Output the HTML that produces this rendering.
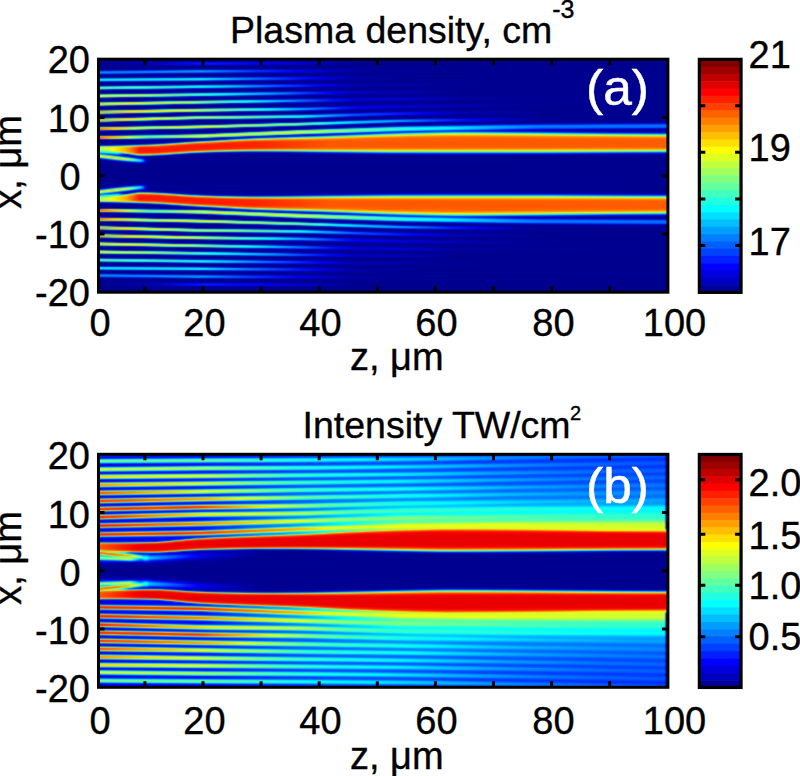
<!DOCTYPE html><html><head><meta charset="utf-8"><style>html,body{margin:0;padding:0;background:#fff;overflow:hidden;width:800px;height:776px}#h{position:absolute;left:0;top:0;width:800px;height:776px}#h i{position:absolute;left:100px;width:567px;height:1px}svg{position:absolute;left:0;top:0;display:block}</style></head><body><div id="h"><i style="top:60px;background:#00008f"></i><i style="top:61px;background:linear-gradient(90deg,#00008f,#0000a0 78px,#0000b1 140px,#00008f 279px,#00008f 566px)"></i><i style="top:62px;background:linear-gradient(90deg,#000090,#0000a9 56px,#0009e9 97px,#0000e1 161px,#00008f 258px,#00008f 566px)"></i><i style="top:63px;background:linear-gradient(90deg,#000090,#0000b3 54px,#0009fb 90px,#0019fd 104px,#0000ef 162px,#00008f 256px,#00008f 566px)"></i><i style="top:64px;background:linear-gradient(90deg,#000090,#0000b3 55px,#0006eb 91px,#000fea 106px,#0000d2 163px,#00008f 253px,#00008f 566px)"></i><i style="top:65px;background:linear-gradient(90deg,#000090,#0000ae 77px,#00009b 187px,#00008f 338px,#00008f 566px)"></i><i style="top:66px;background:#000090"></i><i style="top:67px;background:#00008f"></i><i style="top:68px;background:linear-gradient(90deg,#000090,#009 229px,#00008f 495px,#00008f 566px)"></i><i style="top:69px;background:linear-gradient(90deg,#000195,#000ba9 57px,#001cc4 110px,#0000c0 203px,#000098 271px,#00008f 404px,#00008f 566px)"></i><i style="top:70px;background:linear-gradient(90deg,#0018b5,#0028e7 46px,#0074f0 99px,#0000ec 195px,#00009f 257px,#00008f 335px,#00008f 566px)"></i><i style="top:71px;background:linear-gradient(90deg,#005eec,#0081fd 65px,#008bfd 102px,#0024f9 161px,#0000e6 198px,#00009b 256px,#00008f 364px,#00008f 566px)"></i><i style="top:72px;background:linear-gradient(90deg,#0080fd,#006ff4 64px,#0056e9 103px,#000de2 153px,#00009b 236px,#00008f 392px,#00008f 566px)"></i><i style="top:73px;background:linear-gradient(90deg,#005ceb,#001edf 51px,#0016ae 99px,#0000a0 171px,#00008f 301px,#00008f 566px)"></i><i style="top:74px;background:linear-gradient(90deg,#0018b4,#00019c 67px,#000090 218px,#00008f 566px)"></i><i style="top:75px;background:#000195"></i><i style="top:76px;background:linear-gradient(90deg,#000191,#000da9 131px,#0000b1 225px,#00008f 300px,#00008f 566px)"></i><i style="top:77px;background:linear-gradient(90deg,#001aa9,#0030c7 68px,#003fe7 104px,#003ee8 150px,#000aec 203px,#0000d3 226px,#0000a6 257px,#00008f 319px,#00008f 566px)"></i><i style="top:78px;background:linear-gradient(90deg,#0279e6,#01c7fd 101px,#001bfd 195px,#0000ea 217px,#0000a6 255px,#00008f 320px,#00008f 566px)"></i><i style="top:79px;background:linear-gradient(90deg,#04ddf9,#01dafd 102px,#0062f3 150px,#0004e1 202px,#00009a 255px,#00008f 383px,#00008f 566px)"></i><i style="top:80px;background:linear-gradient(90deg,#02c7fc,#0279e6 99px,#0025e1 133px,#000bb2 177px,#000097 235px,#00008f 566px)"></i><i style="top:81px;background:linear-gradient(90deg,#003be7,#0026b1 67px,#00019e 146px,#000090 278px,#00008f 566px)"></i><i style="top:82px;background:linear-gradient(90deg,#0004a8,#000191 115px,#00008f 566px)"></i><i style="top:83px;background:linear-gradient(90deg,#000091,#00029d 136px,#00a 233px,#0000a4 280px,#00008f 385px,#00008f 566px)"></i><i style="top:84px;background:linear-gradient(90deg,#000191,#010aa7 66px,#0029b5 114px,#001ae7 176px,#0000e0 221px,#0000b1 255px,#00009c 325px,#00008f 379px,#00008f 566px)"></i><i style="top:85px;background:linear-gradient(90deg,#011ea8,#0737bb 38px,#0b3edc 60px,#059de5 102px,#0095f1 130px,#001efd 202px,#00e 223px,#0000b1 253px,#00008f 373px,#00008f 566px)"></i><i style="top:86px;background:linear-gradient(90deg,#1683d1,#15c8d7 29px,#2cc8d0 55px,#0eeaef 101px,#00d2fd 120px,#0045f5 180px,#0001e0 217px,#0000a2 254px,#00008f 388px,#00008f 566px)"></i><i style="top:87px;background:linear-gradient(90deg,#50e2ae,#38fac5 39px,#17cae7 89px,#02bbf0 107px,#001ae2 168px,#0002b0 208px,#000093 265px,#00008f 566px)"></i><i style="top:88px;background:linear-gradient(90deg,#4fd8af,#2fc8c6 27px,#11c0da 45px,#0437de 94px,#001eaf 131px,#0001a0 177px,#000090 269px,#00008f 566px)"></i><i style="top:89px;background:linear-gradient(90deg,#1665d2,#1037d1 18px,#012dad 52px,#0002a1 99px,#000090 176px,#00008f 566px)"></i><i style="top:90px;background:linear-gradient(90deg,#0113a7,#00029d 27px,#000090 119px,#00009c 248px,#0000a2 321px,#00008f 368px,#00008f 566px)"></i><i style="top:91px;background:linear-gradient(90deg,#000191,#00029b 115px,#0017bc 184px,#0004d3 223px,#0000b9 258px,#0000b2 311px,#00008f 359px,#00008f 566px)"></i><i style="top:92px;background:linear-gradient(90deg,#000291,#010aa6 59px,#0135b7 106px,#003fe7 135px,#0064e8 161px,#0052f0 189px,#0000f1 232px,#0000c6 253px,#0000af 311px,#00008f 360px,#00008f 566px)"></i><i style="top:93px;background:linear-gradient(90deg,#0227a6,#0d37a3 21px,#1d37b6 44px,#1f40c9 55px,#12b3d8 96px,#0ac8eb 119px,#00c3fe 141px,#0091fd 171px,#001af3 218px,#0000e2 234px,#0000ba 254px,#00008f 359px,#00008f 566px)"></i><i style="top:94px;background:linear-gradient(90deg,#349bb4,#38c8b0 14px,#6ac887 36px,#70cf8e 59px,#2ef7d0 103px,#09e3f5 128px,#00abfe 150px,#0010e2 204px,#00009f 250px,#000090 401px,#00008f 566px)"></i><i style="top:95px;background:linear-gradient(90deg,#baec44,#acfa52 21px,#86fa78 51px,#2dc8cb 98px,#0abfe3 112px,#002ce0 154px,#0015b1 180px,#0000a0 213px,#000090 290px,#00008f 566px)"></i><i style="top:96px;background:linear-gradient(90deg,#b9e945,#84c874 28px,#36c8b4 51px,#22bcc7 58px,#1037d6 92px,#002bb0 119px,#0002a1 158px,#000090 217px,#000094 410px,#00008f 566px)"></i><i style="top:97px;background:linear-gradient(90deg,#3395b4,#2637bf 23px,#1037a7 45px,#0129a8 64px,#0102a2 97px,#000091 151px,#0000a5 276px,#0000b4 315px,#00009b 379px,#00008f 520px,#00008f 566px)"></i><i style="top:98px;background:linear-gradient(90deg,#0224a6,#0202a0 28px,#000091 87px,#00029f 158px,#0009b9 222px,#0000be 247px,#0000d0 305px,#00009f 361px,#00008f 497px,#00008f 566px)"></i><i style="top:99px;background:linear-gradient(90deg,#000291,#01029b 85px,#0114a6 107px,#0033bc 147px,#0032e7 175px,#003ce9 203px,#0009f0 235px,#0000d7 255px,#0000cd 305px,#009 359px,#00008f 566px)"></i><i style="top:100px;background:linear-gradient(90deg,#000291,#0202a3 37px,#0a37a5 71px,#1d37b3 88px,#213ec6 96px,#14a7d5 128px,#05beec 151px,#0090fe 183px,#000af5 235px,#0000d0 253px,#000092 354px,#00008f 566px)"></i><i style="top:101px;background:linear-gradient(90deg,#0224a6,#0e37a0 14px,#2637a6 31px,#2c41bb 41px,#30c8b9 67px,#6bc887 84px,#7ad384 102px,#1af4e4 144px,#00d6fe 162px,#0064f3 196px,#0008e2 227px,#0000ab 255px,#000090 352px,#00008f 566px)"></i><i style="top:102px;background:linear-gradient(90deg,#3791b0,#40c5a9 10px,#89c866 26px,#a7d357 45px,#a0fa5e 70px,#8ffa6f 93px,#3ac8c4 129px,#09c1e6 145px,#0023e3 186px,#000cb0 213px,#000097 247px,#00008f 566px)"></i><i style="top:103px;background:linear-gradient(90deg,#c6d938,#cef330 14px,#cefa30 32px,#abf353 51px,#7ec87a 77px,#3ac8b0 94px,#25bdc3 100px,#0f38d7 129px,#0029b1 154px,#0001a1 191px,#000090 249px,#000091 430px,#00008f 566px)"></i><i style="top:104px;background:linear-gradient(90deg,#c6e038,#bbce43 16px,#7cc872 34px,#31c4b7 48px,#2438c2 73px,#1137a6 89px,#022aa8 105px,#0002a1 134px,#000090 189px,#00009b 285px,#0000a6 367px,#00008f 465px,#00008f 566px)"></i><i style="top:105px;background:linear-gradient(90deg,#37aab1,#2e37b5 21px,#19379e 36px,#022da7 52px,#0102a0 77px,#000091 123px,#00019a 233px,#0000c7 305px,#00008f 452px,#00008f 566px)"></i><i style="top:106px;background:linear-gradient(90deg,#022ea6,#0202a0 24px,#000191 67px,#00029e 178px,#000ca9 211px,#0003d3 248px,#0000e0 284px,#009 395px,#00008f 541px,#00008f 566px)"></i><i style="top:107px;background:linear-gradient(90deg,#000291,#02029a 85px,#0218a6 110px,#0034b9 161px,#002ce7 202px,#0041ea 219px,#0019f4 242px,#0001f7 256px,#00009b 354px,#00008f 524px,#00008f 566px)"></i><i style="top:108px;background:linear-gradient(90deg,#000191,#02029f 38px,#0221a6 57px,#0c37a1 71px,#2337a7 86px,#2a3ebd 95px,#296fbe 109px,#16b7d3 143px,#04bded 171px,#006cfd 216px,#0013f2 244px,#0001e7 255px,#0000a0 303px,#000090 408px,#00008f 566px)"></i><i style="top:109px;background:linear-gradient(90deg,#0216a5,#0c369f 17px,#29369b 33px,#323eb5 44px,#3ac8ae 67px,#85c86c 83px,#a2d45c 100px,#39f7c5 151px,#06e7f8 174px,#0084fe 204px,#000ce1 236px,#0000ae 257px,#000091 305px,#00008f 566px)"></i><i style="top:110px;background:linear-gradient(90deg,#375fb0,#3dbaab 14px,#92bf5b 29px,#bcc942 45px,#c3fb3b 69px,#c1fa3d 90px,#95ef69 110px,#38c8c1 147px,#09c1e5 163px,#003de7 201px,#0020dc 208px,#000daf 225px,#000098 249px,#000097 323px,#000090 434px,#00008f 566px)"></i><i style="top:111px;background:linear-gradient(90deg,#c6a537,#cfd02f 17px,#e3e41b 32px,#c5f339 56px,#a1c85a 78px,#60c88b 93px,#2ec3ba 103px,#153dd2 139px,#002ab2 173px,#00019d 213px,#000092 260px,#0000b7 327px,#00008f 458px,#00008f 566px)"></i><i style="top:112px;background:linear-gradient(90deg,#d7bc27,#c6bd38 11px,#c1bf3b 28px,#79c473 43px,#37c1b1 54px,#2c38ba 76px,#17379f 91px,#022fa8 107px,#0102a2 146px,#000091 213px,#0001a3 249px,#000dc2 276px,#000ee9 296px,#0000e4 323px,#0000b8 359px,#00008f 450px,#00008f 566px)"></i><i style="top:113px;background:linear-gradient(90deg,#67b682,#37b2b0 7px,#3744b0 24px,#3036a4 31px,#16379b 45px,#022da6 57px,#0202a1 79px,#000191 116px,#00029b 206px,#001abd 239px,#001de7 256px,#0032ef 274px,#0010fc 306px,#0000e3 327px,#0000b2 357px,#00008f 439px,#00008f 566px)"></i><i style="top:114px;background:linear-gradient(90deg,#143699,#0229a6 11px,#0202a0 30px,#000191 66px,#0102a5 130px,#002eb6 201px,#0038e7 216px,#0064ea 231px,#0056f7 247px,#002cf6 284px,#0003de 311px,#00009e 354px,#00008f 476px,#00008f 566px)"></i><i style="top:115px;background:linear-gradient(90deg,#010292,#01029a 65px,#020ea6 77px,#0737a8 95px,#1937c1 125px,#1a46cd 139px,#0c9fdd 185px,#00b4f9 211px,#0091fd 233px,#004cf9 253px,#0014e8 276px,#0003ae 301px,#000091 364px,#00008f 566px)"></i><i style="top:116px;background:linear-gradient(90deg,#000191,#02029e 29px,#0221a6 44px,#0c37a2 55px,#2237ab 67px,#273dc0 73px,#2bc7be 93px,#50c89e 102px,#60ce9e 140px,#3fe4bf 171px,#09eaf4 203px,#00cafe 213px,#0078f0 231px,#0016e1 251px,#000aaf 269px,#000092 307px,#00008f 566px)"></i><i style="top:117px;background:linear-gradient(90deg,#0216a5,#0c369f 13px,#29369a 25px,#3340b4 34px,#39c7af 52px,#7dc874 64px,#96d468 77px,#8dfa71 96px,#66f298 140px,#35cdc9 175px,#05c0ec 200px,#0061e8 215px,#0028df 224px,#0017b1 237px,#0001a0 255px,#000091 292px,#00009b 415px,#00008f 469px,#00008f 566px)"></i><i style="top:118px;background:linear-gradient(90deg,#3761b0,#39b8af 10px,#97bf57 23px,#bfcd3f 36px,#bcfb42 54px,#b1fa4d 70px,#99ef65 81px,#72c887 98px,#1ec0cb 134px,#0937db 183px,#002db7 204px,#0002a1 226px,#000091 256px,#00029f 289px,#000db5 334px,#0000c9 380px,#000095 431px,#00008f 566px)"></i><i style="top:119px;background:linear-gradient(90deg,#c6a537,#cfcf2f 13px,#e4e41a 25px,#c4f33a 43px,#98c862 60px,#52c899 72px,#2cbfbc 78px,#213bc5 95px,#1537ae 109px,#012daa 141px,#0002a2 189px,#000091 230px,#0002a1 258px,#0022bc 283px,#002de7 296px,#003fe8 305px,#002eec 336px,#0000ed 375px,#00008f 439px,#00008f 566px)"></i><i style="top:120px;background:linear-gradient(90deg,#d6bc28,#c6bc38 9px,#bfbf3c 22px,#7ac372 33px,#38c3b0 41px,#2a39bc 58px,#1637a2 69px,#022ea8 80px,#0102a1 98px,#000091 172px,#00029a 221px,#000fa8 234px,#002bbe 252px,#0038e7 263px,#007beb 279px,#0086fe 300px,#0010f5 358px,#0000de 379px,#000090 434px,#00008f 566px)"></i><i style="top:121px;background:linear-gradient(90deg,#65b684,#39b4af 5px,#3740b0 19px,#28379a 28px,#022fa7 43px,#0202a2 60px,#000191 89px,#010299 187px,#010ea7 200px,#0237b9 219px,#073be0 229px,#0098ea 246px,#00b2fe 268px,#00a4fd 286px,#0009e1 348px,#00009d 400px,#000090 469px,#000091 566px)"></i><i style="top:122px;background:linear-gradient(90deg,#133699,#022aa6 8px,#0202a0 23px,#000191 52px,#010299 150px,#010ea6 163px,#0837ac 182px,#1637c6 193px,#184fcf 199px,#12bdd9 215px,#1ac8d9 223px,#0edbf0 238px,#00dcfd 249px,#0097f6 274px,#004ee8 291px,#0022e0 300px,#000db1 329px,#00009b 367px,#000095 456px,#0001a4 566px)"></i><i style="top:123px;background:linear-gradient(90deg,#010292,#010298 113px,#020da6 125px,#0937a7 143px,#1a37b7 154px,#1f43c8 160px,#22c7c8 179px,#50c8a6 191px,#57dba7 203px,#2cfad1 220px,#01c0f7 243px,#0065e8 261px,#002bdf 271px,#001db1 284px,#0001a2 304px,#000093 362px,#0013d8 566px)"></i><i style="top:124px;background:linear-gradient(90deg,#000090,#01029c 69px,#0211a5 85px,#0a37a3 104px,#2137a8 115px,#283fbf 122px,#2ac7bf 140px,#63c890 152px,#77d687 164px,#6efa90 182px,#60f09e 198px,#37c8c4 213px,#0ebfde 222px,#0037e3 241px,#0025b2 253px,#00029f 274px,#000194 302px,#000bb0 369px,#0022ea 433px,#004bf8 566px)"></i><i style="top:125px;background:linear-gradient(90deg,#020292,#020ba5 26px,#0937a5 54px,#2237ab 70px,#2b41bc 79px,#3ac8ae 102px,#7cc874 113px,#98d366 125px,#90fa6e 143px,#7bf183 163px,#5cc89e 181px,#1cc0cd 195px,#0f38d4 212px,#012aad 226px,#0002a2 243px,#000093 267px,#000bad 300px,#0026d5 342px,#0037e9 361px,#0062f4 400px,#0067fe 477px,#006cff 566px)"></i><i style="top:126px;background:linear-gradient(90deg,#26358b,#37369b 15px,#373eb0 23px,#30c8b8 51px,#84c870 69px,#abd752 85px,#bdfa41 105px,#affa4f 120px,#9aed64 130px,#72c886 146px,#2fc8bb 158px,#23aec5 163px,#1a38cb 179px,#0937ae 190px,#0120a8 202px,#0102a1 214px,#000192 238px,#000bab 269px,#012acb 287px,#013ce8 296px,#0160e9 308px,#009af9 345px,#00a3fe 389px,#0079ff 444px,#006cff 566px)"></i><i style="top:127px;background:linear-gradient(90deg,#98a952,#c6b52e 14px,#c7c137 26px,#b9ea45 40px,#9efa60 51px,#b9fa45 74px,#b6f048 91px,#afd54f 103px,#7bc875 115px,#2dc2bb 126px,#2139c5 143px,#0d37a8 155px,#0225a7 166px,#0102a0 182px,#000193 212px,#010ba9 239px,#012fc8 257px,#063fe2 266px,#0dacea 289px,#0ad4f4 304px,#00e6ff 346px,#009dff 407px,#006efe 440px,#004bf8 566px)"></i><i style="top:128px;background:linear-gradient(90deg,#e99115,#f4c80a 15px,#c4f33a 36px,#94ce6a 53px,#6ec880 72px,#32c0b6 87px,#3062b7 102px,#2a38ba 108px,#1437a1 119px,#022ca7 129px,#0102a2 145px,#000191 172px,#00029f 201px,#0118ab 215px,#0837d1 232px,#1048d8 238px,#17bcdf 259px,#29d0d5 269px,#30f2cf 289px,#0dfdf2 326px,#00e7ff 352px,#0053f6 426px,#003ef0 445px,#0014df 551px,#0013d8 566px)"></i><i style="top:129px;background:linear-gradient(90deg,#c77a37,#c8a430 10px,#b9b639 15px,#38c1b0 34px,#2744c0 54px,#2437b4 61px,#1137a1 77px,#022aa6 92px,#02029f 111px,#000090 145px,#01029e 177px,#0214a9 187px,#0a37c1 200px,#163fd1 207px,#25c8cf 229px,#52dbac 244px,#53fdac 266px,#2ffdd0 295px,#01d7fe 337px,#001beb 414px,#000fc6 442px,#0001a5 566px)"></i><i style="top:130px;background:linear-gradient(90deg,#3744b0,#372da8 8px,#2d3692 17px,#0230a7 36px,#0202a3 59px,#000191 98px,#00029a 152px,#010fa7 162px,#0a37bd 176px,#193ece 182px,#2cc5c3 197px,#66cd98 208px,#7cf383 224px,#75fe8a 250px,#3cf3c3 279px,#09c6f6 303px,#0035fb 364px,#0021dd 386px,#0002c7 423px,#00009b 501px,#000093 566px)"></i><i style="top:131px;background:linear-gradient(90deg,#020fa5,#020299 15px,#000294 123px,#010aa7 137px,#0a37b9 152px,#1c40cb 159px,#32c7be 174px,#7dd481 185px,#a3fd5b 199px,#a6fe59 217px,#70fd8f 242px,#25ceda 269px,#12c1e9 275px,#097cf5 290px,#0045ff 307px,#0142f3 320px,#0155fe 339px,#0159fd 363px,#0127ee 413px,#0001ae 513px,#00019e 566px)"></i><i style="top:132px;background:linear-gradient(90deg,#000191,#010299 105px,#020ca6 114px,#0837b4 127px,#1d3cc9 135px,#31c7bd 150px,#7ed280 161px,#a3fd5b 175px,#c0fd3f 191px,#b0fd4f 204px,#81f37d 219px,#3ac9c4 239px,#1bbcda 247px,#0e65ec 263px,#0141f8 274px,#013fe7 282px,#0142fe 296px,#1191ee 328px,#1fc5e0 353px,#1bb7e3 386px,#0149f0 470px,#0120e6 502px,#000fc5 566px)"></i><i style="top:133px;background:linear-gradient(90deg,#000090,#01029d 65px,#0214a7 84px,#0937b0 103px,#2140c6 112px,#2fc4bd 125px,#82d07c 137px,#a7fd58 152px,#bffd40 167px,#a3fd5b 184px,#76d289 201px,#25c1cc 216px,#1352e0 234px,#0838eb 241px,#0134d9 254px,#0136fe 269px,#169ae9 294px,#2edbd1 314px,#7cf283 343px,#84f47b 372px,#4ee4b1 424px,#23cedc 460px,#1185ea 507px,#0257ef 566px)"></i><i style="top:134px;background:linear-gradient(90deg,#020297,#020ea5 20px,#0837b9 60px,#1b3fcd 75px,#2fbdbb 100px,#55c89b 105px,#8fd26f 114px,#abfd53 127px,#c0fc3f 141px,#9bf663 161px,#73cd8b 175px,#2ac0c5 187px,#1946d7 203px,#0e38d8 209px,#0128cc 224px,#0126f0 243px,#0f7ae9 261px,#30d9ce 280px,#7def82 300px,#e0eb1f 342px,#e3e61c 377px,#aef251 435px,#53e2ac 513px,#26cfd8 566px)"></i><i style="top:135px;background:linear-gradient(90deg,#372f8a,#3736b0 14px,#2995be 36px,#19c3d3 54px,#7cd482 81px,#bcfc42 106px,#c4fc3b 120px,#9ff45f 135px,#76cb88 148px,#2bc0c3 160px,#183ad9 177px,#022dc9 190px,#021bda 207px,#023aeb 223px,#23b5db 249px,#38d7c7 256px,#8bed74 273px,#e0e81f 298px,#feb001 343px,#feae01 383px,#d6eb29 492px,#9af065 566px)"></i><i style="top:136px;background:linear-gradient(90deg,#c89128,#c8a536 14px,#bede40 27px,#53f3ab 50px,#bdfc42 97px,#b2fd4d 104px,#85cd79 120px,#2dc1bf 133px,#1b3bd4 149px,#0230c7 163px,#0222da 179px,#0240ea 193px,#29c1d5 225px,#49d8b6 233px,#beec41 259px,#e1df1e 269px,#fea401 303px,#ff7c00 350px,#fe9701 448px,#ecc913 566px)"></i><i style="top:137px;background:linear-gradient(90deg,#fa7604,#efc40f 15px,#c5fb39 29px,#53e0ab 49px,#6cc88d 88px,#61c891 100px,#30c4bb 106px,#1f3dc9 121px,#0236bd 133px,#021dc9 145px,#053de7 162px,#37cdc8 195px,#a6e959 226px,#ddde22 241px,#fe9b01 272px,#ff7200 310px,#f60 383px,#fe9101 566px)"></i><i style="top:138px;background:linear-gradient(90deg,#c86735,#c2b131 11px,#34c8b5 33px,#1672d1 52px,#1a37c7 83px,#0e37b1 102px,#0221ad 112px,#0206bd 124px,#0227c8 134px,#0b3edf 141px,#34b6c6 158px,#43c6bb 163px,#a3da5b 186px,#d2e12d 201px,#fe9501 245px,#ff6900 283px,#ff5d00 397px,#ff6e00 566px)"></i><i style="top:139px;background:linear-gradient(90deg,#3720ad,#303694 13px,#022faa 38px,#010ba7 68px,#0005aa 105px,#0228c3 118px,#0c3adc 124px,#37b3c1 137px,#44beba 140px,#a4cc5a 152px,#c9d636 161px,#eda312 184px,#fe8801 214px,#ff5e00 274px,#ff6000 566px)"></i><i style="top:140px;background:linear-gradient(90deg,#0201a4,#000191 51px,#00029b 84px,#010dae 93px,#0936d6 106px,#1c54cd 111px,#38b7bf 121px,#68bb96 126px,#c4ce3b 136px,#f2870d 153px,#fe6501 175px,#ff5900 385px,#ff5c00 566px)"></i><i style="top:141px;background:linear-gradient(90deg,#000090,#000197 69px,#010bac 78px,#0c37d5 89px,#2d7cc0 97px,#39b8be 104px,#b9c645 117px,#caba35 122px,#f67a09 134px,#fe4101 151px,#f40 189px,#ff5800 233px,#ff5b00 566px)"></i><i style="top:142px;background:linear-gradient(90deg,#00008f,#00029b 56px,#010ead 65px,#0b36d4 75px,#2058c9 79px,#37afbd 86px,#51b6aa 89px,#b6c248 98px,#c8c036 102px,#fd6102 121px,#ff3100 136px,#ff2600 157px,#ff5600 230px,#ff5b00 566px)"></i><i style="top:143px;background:linear-gradient(90deg,#000091,#00029c 32px,#0211ae 47px,#0936d2 60px,#1b4bce 64px,#37abbc 72px,#50b5ab 75px,#c6c339 84px,#e88117 94px,#fd5802 104px,#ff2800 121px,#ff1f00 154px,#ff5600 229px,#ff5b00 566px)"></i><i style="top:144px;background:linear-gradient(90deg,#0104a6,#0221b0 25px,#0c36d0 35px,#2764c4 48px,#3eb8b9 59px,#aebe50 68px,#c7bf37 71px,#e68219 79px,#fd5a02 86px,#ff2e00 97px,#ff1a00 127px,#ff2700 164px,#ff5600 229px,#ff5b00 566px)"></i><i style="top:145px;background:linear-gradient(90deg,#183bcf,#2152c6 13px,#36a5b8 29px,#3cbcb8 33px,#78b286 40px,#a8bb56 50px,#c8c037 55px,#d89627 62px,#fd5b02 72px,#ff2900 83px,#ff1800 107px,#ff2500 161px,#ff5600 229px,#ff5c00 566px)"></i><i style="top:146px;background:linear-gradient(90deg,#66ca98,#bcd942 27px,#cac234 33px,#e0871f 40px,#fd5802 57px,#f20 72px,#ff1700 105px,#ff2600 161px,#ff5800 229px,#ff5f00 566px)"></i><i style="top:147px;background:linear-gradient(90deg,#a4fd5b,#e8f617 15px,#f6c109 26px,#fe3601 40px,#ff1500 75px,#ff2900 154px,#ff6000 229px,#ff6c00 566px)"></i><i style="top:148px;background:linear-gradient(90deg,#b3ff4c,#fef801 14px,#ffac00 26px,#ff1800 40px,#ff1e00 111px,#fe6a01 189px,#ff7900 237px,#fe8a01 549px,#fe8c01 566px)"></i><i style="top:149px;background:linear-gradient(90deg,#a7ff58,#fdfd02 13px,#ffa800 26px,#ff1300 40px,#ff1f00 92px,#fd5802 120px,#e98f16 146px,#e5ac1a 180px,#fcab03 263px,#feae01 418px,#efc310 566px)"></i><i style="top:150px;background:linear-gradient(90deg,#7cff83,#b7ff48 8px,#f1fa0e 14px,#fa0 26px,#ff1200 40px,#ff2000 78px,#fd5402 94px,#e4891b 109px,#c8c936 126px,#86c778 153px,#89d375 182px,#bdea42 239px,#e0e61f 287px,#d9eb26 463px,#a6f059 566px)"></i><i style="top:151px;background:linear-gradient(90deg,#46fab9,#46feb9 7px,#a5fe5a 13px,#daef25 19px,#fcba03 26px,#ff1a00 39px,#ff1b00 61px,#fd3f02 75px,#f3730c 84px,#c8bc36 96px,#b9c345 101px,#41bcba 120px,#3199c1 132px,#2072ce 151px,#1f80d3 178px,#32d2cc 227px,#77ec88 283px,#77ef88 453px,#30d7cf 566px)"></i><i style="top:152px;background:linear-gradient(90deg,#11ceee,#26e9d9 8px,#3ff8c0 14px,#43fcbc 17px,#9dd862 22px,#c4e43b 25px,#fb9004 32px,#ff3200 38px,#ff2100 41px,#fe3701 58px,#f66e09 69px,#c8bb36 80px,#b9c146 83px,#4eb6ad 92px,#37b4be 95px,#2363c7 107px,#0a36da 118px,#0219bb 147px,#0223d0 189px,#023cea 214px,#1baae3 293px,#1bb0e4 444px,#0970ed 533px,#0462ef 566px)"></i><i style="top:153px;background:linear-gradient(90deg,#0386fc,#0ba6f4 10px,#08d8f7 17px,#15c0ea 19px,#2782d7 22px,#319dca 24px,#42bfb3 26px,#c4cc3b 32px,#f97006 38px,#fd5d02 41px,#ee7611 54px,#c1c23d 68px,#4cb6ae 77px,#37aabc 80px,#1845d1 89px,#0736d3 93px,#0111af 108px,#0002a0 126px,#00019e 179px,#0012c3 237px,#0130ed 283px,#0141f0 333px,#013fef 446px,#011ee0 499px,#0012ca 566px)"></i><i style="top:154px;background:linear-gradient(90deg,#30c7cf,#0666f9 8px,#025ffd 11px,#016dfc 18px,#0229f0 23px,#0735ce 26px,#173cd1 28px,#2f81bd 31px,#3fb6b5 33px,#afc04f 37px,#c7c038 39px,#bfc13f 49px,#7cb482 58px,#3ab7bc 64px,#286bc3 71px,#0f38d6 76px,#0220b8 83px,#0002a4 93px,#000091 122px,#00019e 238px,#0009c2 312px,#0006be 461px,#0001a1 566px)"></i><i style="top:155px;background:linear-gradient(90deg,#b3f74c,#71d58e 5px,#3ecac1 8px,#0451fa 17px,#000dd5 24px,#0105c1 27px,#021ebc 31px,#0f3ad4 34px,#348dbb 38px,#379db9 41px,#348bba 49px,#0b36d4 62px,#0106aa 75px,#000092 91px,#00009a 285px,#009 473px,#000092 566px)"></i><i style="top:156px;background:linear-gradient(90deg,#c0fb3f,#cce933 5px,#bef141 9px,#71ce8e 14px,#39c1c6 17px,#0e5ae5 23px,#0231e9 26px,#000dc7 32px,#010bc6 35px,#0229c6 40px,#0210ae 56px,#00029a 67px,#00008f 115px,#000090 566px)"></i><i style="top:157px;background:linear-gradient(90deg,#41cfbd,#bdf242 7px,#d4da2b 12px,#d2e32d 15px,#c2f13d 17px,#32c4cc 25px,#023dec 33px,#001cd9 36px,#0003b6 43px,#000197 49px,#000090 283px,#00008f 566px)"></i><i style="top:158px;background:linear-gradient(90deg,#074ae7,#2ea8cd 6px,#41c8bd 8px,#c1ed3d 15px,#cbea34 20px,#b7fc48 24px,#72e28c 29px,#2bcdd3 32px,#056af0 37px,#0026ec 41px,#0002bb 45px,#000092 48px,#00008f 566px)"></i><i style="top:159px;background:linear-gradient(90deg,#000abb,#0337e7 7px,#30a7cb 14px,#3ec7c0 16px,#95e569 22px,#aafc55 27px,#9cfc63 30px,#3fe7c0 35px,#0cc9f3 38px,#006cfb 42px,#0024f1 44px,#000be1 45px,#0000a5 47px,#000090 49px,#00008f 566px)"></i><i style="top:160px;background:linear-gradient(90deg,#00009a,#010dbd 9px,#0335e7 15px,#33cbcb 26px,#5cdca3 30px,#4be7b4 34px,#11e2ee 39px,#01cafe 41px,#07f 43px,#001af4 45px,#0005d7 46px,#0000ae 47px,#000095 48px,#00008f 566px)"></i><i style="top:161px;background:linear-gradient(90deg,#000091,#0001a5 12px,#0119cb 20px,#0239ea 25px,#1587e3 33px,#06a5f8 39px,#0099fe 41px,#005cfd 43px,#0014ef 45px,#0000ac 47px,#000095 48px,#00008f 566px)"></i><i style="top:162px;background:linear-gradient(90deg,#000090,#00019f 19px,#000fc1 28px,#0031ed 38px,#0034ef 41px,#000ee0 44px,#000093 48px,#00008f 566px)"></i><i style="top:163px;background:linear-gradient(90deg,#00008f,#00019d 28px,#0005be 42px,#00008f 49px,#00008f 566px)"></i><i style="top:164px;background:linear-gradient(90deg,#00008f,#00009c 39px,#00008f 62px,#00008f 566px)"></i><i style="top:165px;background:#00008f"></i><i style="top:166px;background:#00008f"></i><i style="top:167px;background:#00008f"></i><i style="top:168px;background:#00008f"></i><i style="top:169px;background:#00008f"></i><i style="top:170px;background:#00008f"></i><i style="top:171px;background:#00008f"></i><i style="top:172px;background:#00008f"></i><i style="top:173px;background:#00008f"></i><i style="top:174px;background:#00008f"></i><i style="top:175px;background:#00008f"></i><i style="top:176px;background:#00008f"></i><i style="top:177px;background:#00008f"></i><i style="top:178px;background:#00008f"></i><i style="top:179px;background:#00008f"></i><i style="top:180px;background:#00008f"></i><i style="top:181px;background:#00008f"></i><i style="top:182px;background:#00008f"></i><i style="top:183px;background:linear-gradient(90deg,#00008f,#00009c 39px,#00008f 62px,#00008f 566px)"></i><i style="top:184px;background:linear-gradient(90deg,#00008f,#00019d 28px,#0005be 42px,#00008f 49px,#00008f 566px)"></i><i style="top:185px;background:linear-gradient(90deg,#000090,#00019f 19px,#000fc1 28px,#0031ed 38px,#0034ef 41px,#000ee0 44px,#000093 48px,#00008f 566px)"></i><i style="top:186px;background:linear-gradient(90deg,#000091,#0001a5 12px,#0119cb 20px,#0239ea 25px,#1587e3 33px,#06a5f8 39px,#0099fe 41px,#005cfd 43px,#0014ef 45px,#0000ac 47px,#000095 48px,#00008f 566px)"></i><i style="top:187px;background:linear-gradient(90deg,#00009a,#010dbd 9px,#0335e7 15px,#33cbcb 26px,#5cdca3 30px,#4be7b4 34px,#11e2ee 39px,#01cafe 41px,#07f 43px,#001af4 45px,#0005d7 46px,#0000ae 47px,#000095 48px,#00008f 566px)"></i><i style="top:188px;background:linear-gradient(90deg,#000abb,#0337e7 7px,#30a7cb 14px,#3ec7c0 16px,#95e569 22px,#aafc55 27px,#9cfc63 30px,#3fe7c0 35px,#0cc9f3 38px,#006cfb 42px,#0024f1 44px,#000be1 45px,#0000a5 47px,#000090 49px,#00008f 566px)"></i><i style="top:189px;background:linear-gradient(90deg,#074ae7,#2ea8cd 6px,#41c8bd 8px,#c1ed3d 15px,#cbea34 20px,#b7fc48 24px,#72e28c 29px,#2bcdd3 32px,#056af0 37px,#0026ec 41px,#0002bb 45px,#000092 48px,#00008f 566px)"></i><i style="top:190px;background:linear-gradient(90deg,#41cfbd,#bdf242 7px,#d4da2b 12px,#d2e32d 15px,#c2f13d 17px,#32c4cc 25px,#023dec 33px,#001cd9 36px,#0003b6 43px,#000197 49px,#000090 283px,#00008f 566px)"></i><i style="top:191px;background:linear-gradient(90deg,#c0fb3f,#cce933 5px,#bef141 9px,#71ce8e 14px,#39c1c6 17px,#0e5ae5 23px,#0231e9 26px,#000dc7 32px,#010bc6 35px,#0229c6 40px,#0210ae 56px,#00029a 67px,#00008f 115px,#000090 566px)"></i><i style="top:192px;background:linear-gradient(90deg,#b3f74c,#71d58e 5px,#3ecac1 8px,#0451fa 17px,#000dd5 24px,#0105c1 27px,#021ebc 31px,#0f3ad4 34px,#348dbb 38px,#379db9 41px,#348bba 49px,#0b36d4 62px,#0106aa 75px,#000092 91px,#00009a 285px,#009 473px,#000092 566px)"></i><i style="top:193px;background:linear-gradient(90deg,#30c7cf,#0666f9 8px,#025ffd 11px,#016dfc 18px,#0229f0 23px,#0735ce 26px,#173cd1 28px,#2f81bd 31px,#3fb6b5 33px,#afc04f 37px,#c7c038 39px,#bfc13f 49px,#7cb482 58px,#3ab7bc 64px,#286bc3 71px,#0f38d6 76px,#0220b8 83px,#0002a4 93px,#000091 122px,#00019e 238px,#0009c2 312px,#0006be 461px,#0001a1 566px)"></i><i style="top:194px;background:linear-gradient(90deg,#0386fc,#0ba6f4 10px,#08d8f7 17px,#15c0ea 19px,#2782d7 22px,#319dca 24px,#42bfb3 26px,#c4cc3b 32px,#f97006 38px,#fd5d02 41px,#ee7611 54px,#c1c23d 68px,#4cb6ae 77px,#37aabc 80px,#1845d1 89px,#0736d3 93px,#0111af 108px,#0002a0 126px,#00019e 179px,#0012c3 237px,#0130ed 283px,#0141f0 333px,#013fef 446px,#011ee0 499px,#0012ca 566px)"></i><i style="top:195px;background:linear-gradient(90deg,#11ceee,#26e9d9 8px,#3ff8c0 14px,#43fcbc 17px,#9dd862 22px,#c4e43b 25px,#fb9004 32px,#ff3200 38px,#ff2100 41px,#fe3701 58px,#f66e09 69px,#c8bb36 80px,#b9c146 83px,#4eb6ad 92px,#37b4be 95px,#2363c7 107px,#0a36da 118px,#0219bb 147px,#0223d0 189px,#023cea 214px,#1baae3 293px,#1bb0e4 444px,#0970ed 533px,#0462ef 566px)"></i><i style="top:196px;background:linear-gradient(90deg,#46fab9,#46feb9 7px,#a5fe5a 13px,#daef25 19px,#fcba03 26px,#ff1a00 39px,#ff1b00 61px,#fd3f02 75px,#f3730c 84px,#c8bc36 96px,#b9c345 101px,#41bcba 120px,#3199c1 132px,#2072ce 151px,#1f80d3 178px,#32d2cc 227px,#77ec88 283px,#77ef88 453px,#30d7cf 566px)"></i><i style="top:197px;background:linear-gradient(90deg,#7cff83,#b7ff48 8px,#f1fa0e 14px,#fa0 26px,#ff1200 40px,#ff2000 78px,#fd5402 94px,#e4891b 109px,#c8c936 126px,#86c778 153px,#89d375 182px,#bdea42 239px,#e0e61f 287px,#d9eb26 463px,#a6f059 566px)"></i><i style="top:198px;background:linear-gradient(90deg,#a7ff58,#fdfd02 13px,#ffa800 26px,#ff1300 40px,#ff1f00 92px,#fd5802 120px,#e98f16 146px,#e5ac1a 180px,#fcab03 263px,#feae01 418px,#efc310 566px)"></i><i style="top:199px;background:linear-gradient(90deg,#b3ff4c,#fef801 14px,#ffac00 26px,#ff1800 40px,#ff1e00 111px,#fe6a01 189px,#ff7900 237px,#fe8a01 549px,#fe8c01 566px)"></i><i style="top:200px;background:linear-gradient(90deg,#a4fd5b,#e8f617 15px,#f6c109 26px,#fe3601 40px,#ff1500 75px,#ff2900 154px,#ff6000 229px,#ff6c00 566px)"></i><i style="top:201px;background:linear-gradient(90deg,#66ca98,#bcd942 27px,#cac234 33px,#e0871f 40px,#fd5802 57px,#f20 72px,#ff1700 105px,#ff2600 161px,#ff5800 229px,#ff5f00 566px)"></i><i style="top:202px;background:linear-gradient(90deg,#183bcf,#2152c6 13px,#36a5b8 29px,#3cbcb8 33px,#78b286 40px,#a8bb56 50px,#c8c037 55px,#d89627 62px,#fd5b02 72px,#ff2900 83px,#ff1800 107px,#ff2500 161px,#ff5600 229px,#ff5c00 566px)"></i><i style="top:203px;background:linear-gradient(90deg,#0104a6,#0221b0 25px,#0c36d0 35px,#2764c4 48px,#3eb8b9 59px,#aebe50 68px,#c7bf37 71px,#e68219 79px,#fd5a02 86px,#ff2e00 97px,#ff1a00 127px,#ff2700 164px,#ff5600 229px,#ff5b00 566px)"></i><i style="top:204px;background:linear-gradient(90deg,#000091,#00029c 32px,#0211ae 47px,#0936d2 60px,#1b4bce 64px,#37abbc 72px,#50b5ab 75px,#c6c339 84px,#e88117 94px,#fd5802 104px,#ff2800 121px,#ff1f00 154px,#ff5600 229px,#ff5b00 566px)"></i><i style="top:205px;background:linear-gradient(90deg,#00008f,#00029b 56px,#010ead 65px,#0b36d4 75px,#2058c9 79px,#37afbd 86px,#51b6aa 89px,#b6c248 98px,#c8c036 102px,#fd6102 121px,#ff3100 136px,#ff2600 157px,#ff5600 230px,#ff5b00 566px)"></i><i style="top:206px;background:linear-gradient(90deg,#000090,#000197 69px,#010bac 78px,#0c37d5 89px,#2d7cc0 97px,#39b8be 104px,#b9c645 117px,#caba35 122px,#f67a09 134px,#fe4101 151px,#f40 189px,#ff5800 233px,#ff5b00 566px)"></i><i style="top:207px;background:linear-gradient(90deg,#0201a4,#000191 51px,#00029b 84px,#010dae 93px,#0936d6 106px,#1c54cd 111px,#38b7bf 121px,#68bb96 126px,#c4ce3b 136px,#f2870d 153px,#fe6501 175px,#ff5900 385px,#ff5c00 566px)"></i><i style="top:208px;background:linear-gradient(90deg,#3720ad,#303694 13px,#022faa 38px,#010ba7 68px,#0005aa 105px,#0228c3 118px,#0c3adc 124px,#37b3c1 137px,#44beba 140px,#a4cc5a 152px,#c9d636 161px,#eda312 184px,#fe8801 214px,#ff5e00 274px,#ff6000 566px)"></i><i style="top:209px;background:linear-gradient(90deg,#c86735,#c2b131 11px,#34c8b5 33px,#1672d1 52px,#1a37c7 83px,#0e37b1 102px,#0221ad 112px,#0206bd 124px,#0227c8 134px,#0b3edf 141px,#34b6c6 158px,#43c6bb 163px,#a3da5b 186px,#d2e12d 201px,#fe9501 245px,#ff6900 283px,#ff5d00 397px,#ff6e00 566px)"></i><i style="top:210px;background:linear-gradient(90deg,#fa7604,#efc40f 15px,#c5fb39 29px,#53e0ab 49px,#6cc88d 88px,#61c891 100px,#30c4bb 106px,#1f3dc9 121px,#0236bd 133px,#021dc9 145px,#053de7 162px,#37cdc8 195px,#a6e959 226px,#ddde22 241px,#fe9b01 272px,#ff7200 310px,#f60 383px,#fe9101 566px)"></i><i style="top:211px;background:linear-gradient(90deg,#c89128,#c8a536 14px,#bede40 27px,#53f3ab 50px,#bdfc42 97px,#b2fd4d 104px,#85cd79 120px,#2dc1bf 133px,#1b3bd4 149px,#0230c7 163px,#0222da 179px,#0240ea 193px,#29c1d5 225px,#49d8b6 233px,#beec41 259px,#e1df1e 269px,#fea401 303px,#ff7c00 350px,#fe9701 448px,#ecc913 566px)"></i><i style="top:212px;background:linear-gradient(90deg,#372f8a,#3736b0 14px,#2995be 36px,#19c3d3 54px,#7cd482 81px,#bcfc42 106px,#c4fc3b 120px,#9ff45f 135px,#76cb88 148px,#2bc0c3 160px,#183ad9 177px,#022dc9 190px,#021bda 207px,#023aeb 223px,#23b5db 249px,#38d7c7 256px,#8bed74 273px,#e0e81f 298px,#feb001 343px,#feae01 383px,#d6eb29 492px,#9af065 566px)"></i><i style="top:213px;background:linear-gradient(90deg,#020297,#020ea5 20px,#0837b9 60px,#1b3fcd 75px,#2fbdbb 100px,#55c89b 105px,#8fd26f 114px,#abfd53 127px,#c0fc3f 141px,#9bf663 161px,#73cd8b 175px,#2ac0c5 187px,#1946d7 203px,#0e38d8 209px,#0128cc 224px,#0126f0 243px,#0f7ae9 261px,#30d9ce 280px,#7def82 300px,#e0eb1f 342px,#e3e61c 377px,#aef251 435px,#53e2ac 513px,#26cfd8 566px)"></i><i style="top:214px;background:linear-gradient(90deg,#000090,#01029d 65px,#0214a7 84px,#0937b0 103px,#2140c6 112px,#2fc4bd 125px,#82d07c 137px,#a7fd58 152px,#bffd40 167px,#a3fd5b 184px,#76d289 201px,#25c1cc 216px,#1352e0 234px,#0838eb 241px,#0134d9 254px,#0136fe 269px,#169ae9 294px,#2edbd1 314px,#7cf283 343px,#84f47b 372px,#4ee4b1 424px,#23cedc 460px,#1185ea 507px,#0257ef 566px)"></i><i style="top:215px;background:linear-gradient(90deg,#000191,#010299 105px,#020ca6 114px,#0837b4 127px,#1d3cc9 135px,#31c7bd 150px,#7ed280 161px,#a3fd5b 175px,#c0fd3f 191px,#b0fd4f 204px,#81f37d 219px,#3ac9c4 239px,#1bbcda 247px,#0e65ec 263px,#0141f8 274px,#013fe7 282px,#0142fe 296px,#1191ee 328px,#1fc5e0 353px,#1bb7e3 386px,#0149f0 470px,#0120e6 502px,#000fc5 566px)"></i><i style="top:216px;background:linear-gradient(90deg,#020fa5,#020299 15px,#000294 123px,#010aa7 137px,#0a37b9 152px,#1c40cb 159px,#32c7be 174px,#7dd481 185px,#a3fd5b 199px,#a6fe59 217px,#70fd8f 242px,#25ceda 269px,#12c1e9 275px,#097cf5 290px,#0045ff 307px,#0142f3 320px,#0155fe 339px,#0159fd 363px,#0127ee 413px,#0001ae 513px,#00019e 566px)"></i><i style="top:217px;background:linear-gradient(90deg,#3744b0,#372da8 8px,#2d3692 17px,#0230a7 36px,#0202a3 59px,#000191 98px,#00029a 152px,#010fa7 162px,#0a37bd 176px,#193ece 182px,#2cc5c3 197px,#66cd98 208px,#7cf383 224px,#75fe8a 250px,#3cf3c3 279px,#09c6f6 303px,#0035fb 364px,#0021dd 386px,#0002c7 423px,#00009b 501px,#000093 566px)"></i><i style="top:218px;background:linear-gradient(90deg,#c77a37,#c8a430 10px,#b9b639 15px,#38c1b0 34px,#2744c0 54px,#2437b4 61px,#1137a1 77px,#022aa6 92px,#02029f 111px,#000090 145px,#01029e 177px,#0214a9 187px,#0a37c1 200px,#163fd1 207px,#25c8cf 229px,#52dbac 244px,#53fdac 266px,#2ffdd0 295px,#01d7fe 337px,#001beb 414px,#000fc6 442px,#0001a5 566px)"></i><i style="top:219px;background:linear-gradient(90deg,#e99115,#f4c80a 15px,#c4f33a 36px,#94ce6a 53px,#6ec880 72px,#32c0b6 87px,#3062b7 102px,#2a38ba 108px,#1437a1 119px,#022ca7 129px,#0102a2 145px,#000191 172px,#00029f 201px,#0118ab 215px,#0837d1 232px,#1048d8 238px,#17bcdf 259px,#29d0d5 269px,#30f2cf 289px,#0dfdf2 326px,#00e7ff 352px,#0053f6 426px,#003ef0 445px,#0014df 551px,#0013d8 566px)"></i><i style="top:220px;background:linear-gradient(90deg,#98a952,#c6b52e 14px,#c7c137 26px,#b9ea45 40px,#9efa60 51px,#b9fa45 74px,#b6f048 91px,#afd54f 103px,#7bc875 115px,#2dc2bb 126px,#2139c5 143px,#0d37a8 155px,#0225a7 166px,#0102a0 182px,#000193 212px,#010ba9 239px,#012fc8 257px,#063fe2 266px,#0dacea 289px,#0ad4f4 304px,#00e6ff 346px,#009dff 407px,#006efe 440px,#004bf8 566px)"></i><i style="top:221px;background:linear-gradient(90deg,#26358b,#37369b 15px,#373eb0 23px,#30c8b8 51px,#84c870 69px,#abd752 85px,#bdfa41 105px,#affa4f 120px,#9aed64 130px,#72c886 146px,#2fc8bb 158px,#23aec5 163px,#1a38cb 179px,#0937ae 190px,#0120a8 202px,#0102a1 214px,#000192 238px,#000bab 269px,#012acb 287px,#013ce8 296px,#0160e9 308px,#009af9 345px,#00a3fe 389px,#0079ff 444px,#006cff 566px)"></i><i style="top:222px;background:linear-gradient(90deg,#020292,#020ba5 26px,#0937a5 54px,#2237ab 70px,#2b41bc 79px,#3ac8ae 102px,#7cc874 113px,#98d366 125px,#90fa6e 143px,#7bf183 163px,#5cc89e 181px,#1cc0cd 195px,#0f38d4 212px,#012aad 226px,#0002a2 243px,#000093 267px,#000bad 300px,#0026d5 342px,#0037e9 361px,#0062f4 400px,#0067fe 477px,#006cff 566px)"></i><i style="top:223px;background:linear-gradient(90deg,#000090,#01029c 69px,#0211a5 85px,#0a37a3 104px,#2137a8 115px,#283fbf 122px,#2ac7bf 140px,#63c890 152px,#77d687 164px,#6efa90 182px,#60f09e 198px,#37c8c4 213px,#0ebfde 222px,#0037e3 241px,#0025b2 253px,#00029f 274px,#000194 302px,#000bb0 369px,#0022ea 433px,#004bf8 566px)"></i><i style="top:224px;background:linear-gradient(90deg,#010292,#010298 113px,#020da6 125px,#0937a7 143px,#1a37b7 154px,#1f43c8 160px,#22c7c8 179px,#50c8a6 191px,#57dba7 203px,#2cfad1 220px,#01c0f7 243px,#0065e8 261px,#002bdf 271px,#001db1 284px,#0001a2 304px,#000093 362px,#0013d8 566px)"></i><i style="top:225px;background:linear-gradient(90deg,#133699,#022aa6 8px,#0202a0 23px,#000191 52px,#010299 150px,#010ea6 163px,#0837ac 182px,#1637c6 193px,#184fcf 199px,#12bdd9 215px,#1ac8d9 223px,#0edbf0 238px,#00dcfd 249px,#0097f6 274px,#004ee8 291px,#0022e0 300px,#000db1 329px,#00009b 367px,#000095 456px,#0001a4 566px)"></i><i style="top:226px;background:linear-gradient(90deg,#65b684,#39b4af 5px,#3740b0 19px,#28379a 28px,#022fa7 43px,#0202a2 60px,#000191 89px,#010299 187px,#010ea7 200px,#0237b9 219px,#073be0 229px,#0098ea 246px,#00b2fe 268px,#00a4fd 286px,#0009e1 348px,#00009d 400px,#000090 469px,#000091 566px)"></i><i style="top:227px;background:linear-gradient(90deg,#d6bc28,#c6bc38 9px,#bfbf3c 22px,#7ac372 33px,#38c3b0 41px,#2a39bc 58px,#1637a2 69px,#022ea8 80px,#0102a1 98px,#000091 172px,#00029a 221px,#000fa8 234px,#002bbe 252px,#0038e7 263px,#007beb 279px,#0086fe 300px,#0010f5 358px,#0000de 379px,#000090 434px,#00008f 566px)"></i><i style="top:228px;background:linear-gradient(90deg,#c6a537,#cfcf2f 13px,#e4e41a 25px,#c4f33a 43px,#98c862 60px,#52c899 72px,#2cbfbc 78px,#213bc5 95px,#1537ae 109px,#012daa 141px,#0002a2 189px,#000091 230px,#0002a1 258px,#0022bc 283px,#002de7 296px,#003fe8 305px,#002eec 336px,#0000ed 375px,#00008f 439px,#00008f 566px)"></i><i style="top:229px;background:linear-gradient(90deg,#3761b0,#39b8af 10px,#97bf57 23px,#bfcd3f 36px,#bcfb42 54px,#b1fa4d 70px,#99ef65 81px,#72c887 98px,#1ec0cb 134px,#0937db 183px,#002db7 204px,#0002a1 226px,#000091 256px,#00029f 289px,#000db5 334px,#0000c9 380px,#000095 431px,#00008f 566px)"></i><i style="top:230px;background:linear-gradient(90deg,#0216a5,#0c369f 13px,#29369a 25px,#3340b4 34px,#39c7af 52px,#7dc874 64px,#96d468 77px,#8dfa71 96px,#66f298 140px,#35cdc9 175px,#05c0ec 200px,#0061e8 215px,#0028df 224px,#0017b1 237px,#0001a0 255px,#000091 292px,#00009b 415px,#00008f 469px,#00008f 566px)"></i><i style="top:231px;background:linear-gradient(90deg,#000191,#02029e 29px,#0221a6 44px,#0c37a2 55px,#2237ab 67px,#273dc0 73px,#2bc7be 93px,#50c89e 102px,#60ce9e 140px,#3fe4bf 171px,#09eaf4 203px,#00cafe 213px,#0078f0 231px,#0016e1 251px,#000aaf 269px,#000092 307px,#00008f 566px)"></i><i style="top:232px;background:linear-gradient(90deg,#010292,#01029a 65px,#020ea6 77px,#0737a8 95px,#1937c1 125px,#1a46cd 139px,#0c9fdd 185px,#00b4f9 211px,#0091fd 233px,#004cf9 253px,#0014e8 276px,#0003ae 301px,#000091 364px,#00008f 566px)"></i><i style="top:233px;background:linear-gradient(90deg,#143699,#0229a6 11px,#0202a0 30px,#000191 66px,#0102a5 130px,#002eb6 201px,#0038e7 216px,#0064ea 231px,#0056f7 247px,#002cf6 284px,#0003de 311px,#00009e 354px,#00008f 476px,#00008f 566px)"></i><i style="top:234px;background:linear-gradient(90deg,#67b682,#37b2b0 7px,#3744b0 24px,#3036a4 31px,#16379b 45px,#022da6 57px,#0202a1 79px,#000191 116px,#00029b 206px,#001abd 239px,#001de7 256px,#0032ef 274px,#0010fc 306px,#0000e3 327px,#0000b2 357px,#00008f 439px,#00008f 566px)"></i><i style="top:235px;background:linear-gradient(90deg,#d7bc27,#c6bd38 11px,#c1bf3b 28px,#79c473 43px,#37c1b1 54px,#2c38ba 76px,#17379f 91px,#022fa8 107px,#0102a2 146px,#000091 213px,#0001a3 249px,#000dc2 276px,#000ee9 296px,#0000e4 323px,#0000b8 359px,#00008f 450px,#00008f 566px)"></i><i style="top:236px;background:linear-gradient(90deg,#c6a537,#cfd02f 17px,#e3e41b 32px,#c5f339 56px,#a1c85a 78px,#60c88b 93px,#2ec3ba 103px,#153dd2 139px,#002ab2 173px,#00019d 213px,#000092 260px,#0000b7 327px,#00008f 458px,#00008f 566px)"></i><i style="top:237px;background:linear-gradient(90deg,#375fb0,#3dbaab 14px,#92bf5b 29px,#bcc942 45px,#c3fb3b 69px,#c1fa3d 90px,#95ef69 110px,#38c8c1 147px,#09c1e5 163px,#003de7 201px,#0020dc 208px,#000daf 225px,#000098 249px,#000097 323px,#000090 434px,#00008f 566px)"></i><i style="top:238px;background:linear-gradient(90deg,#0216a5,#0c369f 17px,#29369b 33px,#323eb5 44px,#3ac8ae 67px,#85c86c 83px,#a2d45c 100px,#39f7c5 151px,#06e7f8 174px,#0084fe 204px,#000ce1 236px,#0000ae 257px,#000091 305px,#00008f 566px)"></i><i style="top:239px;background:linear-gradient(90deg,#000191,#02029f 38px,#0221a6 57px,#0c37a1 71px,#2337a7 86px,#2a3ebd 95px,#296fbe 109px,#16b7d3 143px,#04bded 171px,#006cfd 216px,#0013f2 244px,#0001e7 255px,#0000a0 303px,#000090 408px,#00008f 566px)"></i><i style="top:240px;background:linear-gradient(90deg,#000291,#02029a 85px,#0218a6 110px,#0034b9 161px,#002ce7 202px,#0041ea 219px,#0019f4 242px,#0001f7 256px,#00009b 354px,#00008f 524px,#00008f 566px)"></i><i style="top:241px;background:linear-gradient(90deg,#022ea6,#0202a0 24px,#000191 67px,#00029e 178px,#000ca9 211px,#0003d3 248px,#0000e0 284px,#009 395px,#00008f 541px,#00008f 566px)"></i><i style="top:242px;background:linear-gradient(90deg,#37aab1,#2e37b5 21px,#19379e 36px,#022da7 52px,#0102a0 77px,#000091 123px,#00019a 233px,#0000c7 305px,#00008f 452px,#00008f 566px)"></i><i style="top:243px;background:linear-gradient(90deg,#c6e038,#bbce43 16px,#7cc872 34px,#31c4b7 48px,#2438c2 73px,#1137a6 89px,#022aa8 105px,#0002a1 134px,#000090 189px,#00009b 285px,#0000a6 367px,#00008f 465px,#00008f 566px)"></i><i style="top:244px;background:linear-gradient(90deg,#c6d938,#cef330 14px,#cefa30 32px,#abf353 51px,#7ec87a 77px,#3ac8b0 94px,#25bdc3 100px,#0f38d7 129px,#0029b1 154px,#0001a1 191px,#000090 249px,#000091 430px,#00008f 566px)"></i><i style="top:245px;background:linear-gradient(90deg,#3791b0,#40c5a9 10px,#89c866 26px,#a7d357 45px,#a0fa5e 70px,#8ffa6f 93px,#3ac8c4 129px,#09c1e6 145px,#0023e3 186px,#000cb0 213px,#000097 247px,#00008f 566px)"></i><i style="top:246px;background:linear-gradient(90deg,#0224a6,#0e37a0 14px,#2637a6 31px,#2c41bb 41px,#30c8b9 67px,#6bc887 84px,#7ad384 102px,#1af4e4 144px,#00d6fe 162px,#0064f3 196px,#0008e2 227px,#0000ab 255px,#000090 352px,#00008f 566px)"></i><i style="top:247px;background:linear-gradient(90deg,#000291,#0202a3 37px,#0a37a5 71px,#1d37b3 88px,#213ec6 96px,#14a7d5 128px,#05beec 151px,#0090fe 183px,#000af5 235px,#0000d0 253px,#000092 354px,#00008f 566px)"></i><i style="top:248px;background:linear-gradient(90deg,#000291,#01029b 85px,#0114a6 107px,#0033bc 147px,#0032e7 175px,#003ce9 203px,#0009f0 235px,#0000d7 255px,#0000cd 305px,#009 359px,#00008f 566px)"></i><i style="top:249px;background:linear-gradient(90deg,#0224a6,#0202a0 28px,#000091 87px,#00029f 158px,#0009b9 222px,#0000be 247px,#0000d0 305px,#00009f 361px,#00008f 497px,#00008f 566px)"></i><i style="top:250px;background:linear-gradient(90deg,#3395b4,#2637bf 23px,#1037a7 45px,#0129a8 64px,#0102a2 97px,#000091 151px,#0000a5 276px,#0000b4 315px,#00009b 379px,#00008f 520px,#00008f 566px)"></i><i style="top:251px;background:linear-gradient(90deg,#b9e945,#84c874 28px,#36c8b4 51px,#22bcc7 58px,#1037d6 92px,#002bb0 119px,#0002a1 158px,#000090 217px,#000094 410px,#00008f 566px)"></i><i style="top:252px;background:linear-gradient(90deg,#baec44,#acfa52 21px,#86fa78 51px,#2dc8cb 98px,#0abfe3 112px,#002ce0 154px,#0015b1 180px,#0000a0 213px,#000090 290px,#00008f 566px)"></i><i style="top:253px;background:linear-gradient(90deg,#349bb4,#38c8b0 14px,#6ac887 36px,#70cf8e 59px,#2ef7d0 103px,#09e3f5 128px,#00abfe 150px,#0010e2 204px,#00009f 250px,#000090 401px,#00008f 566px)"></i><i style="top:254px;background:linear-gradient(90deg,#0227a6,#0d37a3 21px,#1d37b6 44px,#1f40c9 55px,#12b3d8 96px,#0ac8eb 119px,#00c3fe 141px,#0091fd 171px,#001af3 218px,#0000e2 234px,#0000ba 254px,#00008f 359px,#00008f 566px)"></i><i style="top:255px;background:linear-gradient(90deg,#000291,#010aa6 59px,#0135b7 106px,#003fe7 135px,#0064e8 161px,#0052f0 189px,#0000f1 232px,#0000c6 253px,#0000af 311px,#00008f 360px,#00008f 566px)"></i><i style="top:256px;background:linear-gradient(90deg,#000191,#00029b 115px,#0017bc 184px,#0004d3 223px,#0000b9 258px,#0000b2 311px,#00008f 359px,#00008f 566px)"></i><i style="top:257px;background:linear-gradient(90deg,#0113a7,#00029d 27px,#000090 119px,#00009c 248px,#0000a2 321px,#00008f 368px,#00008f 566px)"></i><i style="top:258px;background:linear-gradient(90deg,#1665d2,#1037d1 18px,#012dad 52px,#0002a1 99px,#000090 176px,#00008f 566px)"></i><i style="top:259px;background:linear-gradient(90deg,#4fd8af,#2fc8c6 27px,#11c0da 45px,#0437de 94px,#001eaf 131px,#0001a0 177px,#000090 269px,#00008f 566px)"></i><i style="top:260px;background:linear-gradient(90deg,#50e2ae,#38fac5 39px,#17cae7 89px,#02bbf0 107px,#001ae2 168px,#0002b0 208px,#000093 265px,#00008f 566px)"></i><i style="top:261px;background:linear-gradient(90deg,#1683d1,#15c8d7 29px,#2cc8d0 55px,#0eeaef 101px,#00d2fd 120px,#0045f5 180px,#0001e0 217px,#0000a2 254px,#00008f 388px,#00008f 566px)"></i><i style="top:262px;background:linear-gradient(90deg,#011ea8,#0737bb 38px,#0b3edc 60px,#059de5 102px,#0095f1 130px,#001efd 202px,#00e 223px,#0000b1 253px,#00008f 373px,#00008f 566px)"></i><i style="top:263px;background:linear-gradient(90deg,#000191,#010aa7 66px,#0029b5 114px,#001ae7 176px,#0000e0 221px,#0000b1 255px,#00009c 325px,#00008f 379px,#00008f 566px)"></i><i style="top:264px;background:linear-gradient(90deg,#000091,#00029d 136px,#00a 233px,#0000a4 280px,#00008f 385px,#00008f 566px)"></i><i style="top:265px;background:linear-gradient(90deg,#0004a8,#000191 115px,#00008f 566px)"></i><i style="top:266px;background:linear-gradient(90deg,#003be7,#0026b1 67px,#00019e 146px,#000090 278px,#00008f 566px)"></i><i style="top:267px;background:linear-gradient(90deg,#02c7fc,#0279e6 99px,#0025e1 133px,#000bb2 177px,#000097 235px,#00008f 566px)"></i><i style="top:268px;background:linear-gradient(90deg,#04ddf9,#01dafd 102px,#0062f3 150px,#0004e1 202px,#00009a 255px,#00008f 383px,#00008f 566px)"></i><i style="top:269px;background:linear-gradient(90deg,#0279e6,#01c7fd 101px,#001bfd 195px,#0000ea 217px,#0000a6 255px,#00008f 320px,#00008f 566px)"></i><i style="top:270px;background:linear-gradient(90deg,#001aa9,#0030c7 68px,#003fe7 104px,#003ee8 150px,#000aec 203px,#0000d3 226px,#0000a6 257px,#00008f 319px,#00008f 566px)"></i><i style="top:271px;background:linear-gradient(90deg,#000191,#000da9 131px,#0000b1 225px,#00008f 300px,#00008f 566px)"></i><i style="top:272px;background:#000195"></i><i style="top:273px;background:linear-gradient(90deg,#0018b4,#00019c 67px,#000090 218px,#00008f 566px)"></i><i style="top:274px;background:linear-gradient(90deg,#005ceb,#001edf 51px,#0016ae 99px,#0000a0 171px,#00008f 301px,#00008f 566px)"></i><i style="top:275px;background:linear-gradient(90deg,#0080fd,#006ff4 64px,#0056e9 103px,#000de2 153px,#00009b 236px,#00008f 392px,#00008f 566px)"></i><i style="top:276px;background:linear-gradient(90deg,#005eec,#0081fd 65px,#008bfd 102px,#0024f9 161px,#0000e6 198px,#00009b 256px,#00008f 364px,#00008f 566px)"></i><i style="top:277px;background:linear-gradient(90deg,#0018b5,#0028e7 46px,#0074f0 99px,#0000ec 195px,#00009f 257px,#00008f 335px,#00008f 566px)"></i><i style="top:278px;background:linear-gradient(90deg,#000195,#000ba9 57px,#001cc4 110px,#0000c0 203px,#000098 271px,#00008f 404px,#00008f 566px)"></i><i style="top:279px;background:linear-gradient(90deg,#000090,#009 229px,#00008f 495px,#00008f 566px)"></i><i style="top:280px;background:#00008f"></i><i style="top:281px;background:#000090"></i><i style="top:282px;background:linear-gradient(90deg,#000090,#0000ae 77px,#00009b 187px,#00008f 338px,#00008f 566px)"></i><i style="top:283px;background:linear-gradient(90deg,#000090,#0000b3 55px,#0006eb 91px,#000fea 106px,#0000d2 163px,#00008f 253px,#00008f 566px)"></i><i style="top:284px;background:linear-gradient(90deg,#000090,#0000b3 54px,#0009fb 90px,#0019fd 104px,#0000ef 162px,#00008f 256px,#00008f 566px)"></i><i style="top:285px;background:linear-gradient(90deg,#000090,#0000a9 56px,#0009e9 97px,#0000e1 161px,#00008f 258px,#00008f 566px)"></i><i style="top:286px;background:linear-gradient(90deg,#00008f,#0000a0 78px,#0000b1 140px,#00008f 279px,#00008f 566px)"></i><i style="top:287px;background:#00008f"></i><i style="top:288px;background:#00008f"></i><i style="top:289px;background:#00008f"></i><i style="top:290px;background:#00008f"></i><i style="top:455px;background:linear-gradient(90deg,#0054fc,#0015fd 93px,#003aff 217px,#0042ff 365px,#005dff 477px,#004ffe 564px,#003fef 565px,#0011c5 566px)"></i><i style="top:456px;background:linear-gradient(90deg,#0017f1,#000dfd 111px,#0042ff 218px,#0064ff 342px,#006eff 442px,#0049fe 564px,#003aee 565px,#0010c0 566px)"></i><i style="top:457px;background:linear-gradient(90deg,#000aeb,#012dfc 96px,#007dff 245px,#009bff 355px,#003cfe 564px,#002feb 565px,#000db5 566px)"></i><i style="top:458px;background:linear-gradient(90deg,#0145f8,#10a7ef 122px,#00ceff 279px,#00b8ff 345px,#0046ff 491px,#0031fe 564px,#0027e8 565px,#000bab 566px)"></i><i style="top:459px;background:linear-gradient(90deg,#19c2e6,#2ad8d4 37px,#47ecb8 106px,#00f4ff 254px,#00ceff 318px,#0058ff 423px,#0032ff 506px,#0030fe 564px,#0026e8 565px,#000aaa 566px)"></i><i style="top:460px;background:linear-gradient(90deg,#5cf8a3,#60fd9f 104px,#0ef4f1 215px,#00d6ff 277px,#00aeff 315px,#004cff 393px,#0032ff 476px,#003afe 564px,#002eea 565px,#000db1 566px)"></i><i style="top:461px;background:linear-gradient(90deg,#67fd98,#38e5c7 114px,#09d8f6 185px,#0074ff 311px,#003fff 373px,#0039ff 458px,#004afe 564px,#003bed 565px,#0010bd 566px)"></i><i style="top:462px;background:linear-gradient(90deg,#2fd8d0,#18c5e6 40px,#0d8bf2 113px,#0073ff 216px,#003eff 359px,#05f 563px,#0054fe 564px,#0043ef 565px,#0012c4 566px)"></i><i style="top:463px;background:linear-gradient(90deg,#0964f1,#0129fe 107px,#0046ff 217px,#0057ff 354px,#0068ff 468px,#0054fe 564px,#0043ef 565px,#0012c4 566px)"></i><i style="top:464px;background:linear-gradient(90deg,#0013eb,#000ef9 94px,#0059ff 239px,#008cff 369px,#0067ff 485px,#004afe 564px,#003bec 565px,#0010bb 566px)"></i><i style="top:465px;background:linear-gradient(90deg,#0006e9,#012efa 74px,#0259fd 115px,#00b8ff 296px,#00b0ff 358px,#0048ff 527px,#003dfe 564px,#0030e9 565px,#000daf 566px)"></i><i style="top:466px;background:linear-gradient(90deg,#0238f7,#20a5de 76px,#23d2dc 105px,#00e9ff 284px,#00b6ff 354px,#0061ff 442px,#003bff 525px,#0036fe 564px,#002be8 565px,#000caa 566px)"></i><i style="top:467px;background:linear-gradient(90deg,#29bbd5,#39d1c6 17px,#7aeb85 69px,#81fd7e 106px,#19fde6 218px,#00e9ff 288px,#0056ff 412px,#0039ff 498px,#003bfe 564px,#002fe8 565px,#000dad 566px)"></i><i style="top:468px;background:linear-gradient(90deg,#9df762,#b2fe4d 61px,#98fe67 107px,#20f4df 202px,#02d9fd 256px,#0095ff 316px,#004dff 381px,#003bff 461px,#0049fe 564px,#003aeb 565px,#0010b7 566px)"></i><i style="top:469px;background:linear-gradient(90deg,#c9fe36,#87f478 71px,#38dfc7 135px,#0fd4f0 179px,#0071ff 293px,#04f 364px,#004bff 463px,#0058fe 564px,#0045ee 565px,#0013c2 566px)"></i><i style="top:470px;background:linear-gradient(90deg,#8ceb73,#26c6d9 62px,#1682e9 104px,#0072ff 201px,#004fff 289px,#0057ff 401px,#0063ff 493px,#005dfe 564px,#004aef 565px,#0014c5 566px)"></i><i style="top:471px;background:linear-gradient(90deg,#2396da,#034ef9 56px,#0122fe 104px,#004fff 219px,#007fff 409px,#0058fe 564px,#0046ee 565px,#0013c0 566px)"></i><i style="top:472px;background:linear-gradient(90deg,#0226f7,#0114f8 77px,#0126fe 118px,#0079ff 218px,#00abff 347px,#004bfe 564px,#003beb 565px,#0010b5 566px)"></i><i style="top:473px;background:linear-gradient(90deg,#0224f4,#0b52f1 69px,#16a4e9 154px,#04d8fb 254px,#00d4ff 323px,#004eff 505px,#0040fe 564px,#0033e8 565px,#000eac 566px)"></i><i style="top:474px;background:linear-gradient(90deg,#2c90d1,#3ccfc2 55px,#6bdd94 108px,#4fefb0 165px,#22f6dd 213px,#00f1ff 296px,#0065ff 426px,#0042ff 508px,#0042fe 564px,#0034e8 565px,#000ead 566px)"></i><i style="top:475px;background:linear-gradient(90deg,#a9de56,#cefb31 75px,#cefd31 105px,#38fec7 194px,#0ef2f1 250px,#00d2ff 301px,#0060ff 387px,#04f 460px,#0050fe 564px,#003feb 565px,#0011b7 566px)"></i><i style="top:476px;background:linear-gradient(90deg,#efdd10,#e3fa1c 85px,#cffd30 105px,#53f2ac 164px,#0be3f4 210px,#0079ff 319px,#004dff 382px,#005efe 564px,#004bee 565px,#0015c2 566px)"></i><i style="top:477px;background:linear-gradient(90deg,#d3e52c,#bff240 31px,#6fdd90 104px,#20d0df 144px,#0398fc 200px,#0064ff 288px,#0057ff 363px,#006aff 491px,#0064fe 564px,#004fef 565px,#0016c5 566px)"></i><i style="top:478px;background:linear-gradient(90deg,#57cba8,#34c5ca 29px,#1670e9 106px,#015bfe 158px,#0061ff 277px,#0084ff 398px,#0076ff 485px,#005ffe 564px,#004bee 565px,#0015c0 566px)"></i><i style="top:479px;background:linear-gradient(90deg,#0e4deb,#0228fb 64px,#0123fe 116px,#0af 311px,#00abff 374px,#05f 555px,#0051fe 564px,#0040eb 565px,#0012b5 566px)"></i><i style="top:480px;background:linear-gradient(90deg,#010cea,#011dfb 76px,#09b7f6 213px,#01e2fe 294px,#00c6ff 355px,#005cff 490px,#0047fe 564px,#0038e8 565px,#000fab 566px)"></i><i style="top:481px;background:linear-gradient(90deg,#0222ed,#0746f3 34px,#279dd8 94px,#2ad6d5 133px,#31e7ce 180px,#01f7fe 297px,#006dff 426px,#0049ff 509px,#0047fe 564px,#0038e8 565px,#000faa 566px)"></i><i style="top:482px;background:linear-gradient(90deg,#348cc8,#3ec5c1 31px,#90e16f 80px,#99f566 109px,#63fe9c 171px,#2ffed0 213px,#01e2fe 296px,#0067ff 390px,#004bff 468px,#0052fe 564px,#0041ea 565px,#0012b1 566px)"></i><i style="top:483px;background:linear-gradient(90deg,#bfcd40,#e3ec1c 72px,#dcfe23 100px,#3af4c5 189px,#08ddf7 238px,#005fff 363px,#0050ff 434px,#0064fe 564px,#004fed 565px,#0016bd 566px)"></i><i style="top:484px;background:linear-gradient(90deg,#f8a007,#f2d20d 47px,#c9fc36 87px,#16d6e9 175px,#0086ff 251px,#005bff 358px,#0071ff 563px,#0070fe 564px,#0059ef 565px,#0018c4 566px)"></i><i style="top:485px;background:linear-gradient(90deg,#e4a51b,#c4e33b 38px,#2dc8d2 101px,#1087ef 146px,#016dfe 194px,#0063ff 274px,#0087ff 463px,#0072fe 564px,#005aef 565px,#0019c4 566px)"></i><i style="top:486px;background:linear-gradient(90deg,#85bf7a,#37bec8 30px,#1462e9 77px,#0240fd 111px,#0040ff 164px,#00abff 345px,#0098ff 448px,#006afe 564px,#0054ec 565px,#0017bb 566px)"></i><i style="top:487px;background:linear-gradient(90deg,#1e5ddb,#0233f8 36px,#0011fa 90px,#02f 124px,#0397fc 215px,#02dffd 315px,#00c8ff 374px,#0069ff 527px,#005efe 564px,#004ae9 565px,#0014af 566px)"></i><i style="top:488px;background:linear-gradient(90deg,#0112ea,#0113f4 53px,#0238fb 97px,#15c8ea 180px,#13e6ec 215px,#0dfaf2 307px,#00e8ff 342px,#008cff 432px,#005fff 517px,#0059fe 564px,#0047e8 565px,#0013aa 566px)"></i><i style="top:489px;background:linear-gradient(90deg,#0223ed,#0740f3 28px,#2a91d5 82px,#37d4c8 115px,#5ae7a5 149px,#46fab9 189px,#19fde6 273px,#04f1fb 316px,#007cff 411px,#005eff 497px,#005ffe 564px,#004ce8 565px,#0015ad 566px)"></i><i style="top:490px;background:linear-gradient(90deg,#3788c4,#3eb9c1 26px,#98d467 71px,#adfc52 109px,#9afe65 146px,#34fccb 209px,#06e0f9 286px,#009fff 340px,#006aff 402px,#006ffe 564px,#0058eb 565px,#0018b7 566px)"></i><i style="top:491px;background:linear-gradient(90deg,#c8ac37,#d3ae2c 35px,#ecd813 77px,#e4fe1b 106px,#5ef5a1 166px,#0fe1f0 206px,#00a9ff 273px,#0071ff 370px,#0080fe 564px,#0065ee 565px,#001cc2 566px)"></i><i style="top:492px;background:linear-gradient(90deg,#fc5d03,#fba504 44px,#c6f839 93px,#1ed3e1 157px,#0698f9 194px,#007cff 257px,#0094ff 474px,#0087fe 564px,#006bef 565px,#001dc5 566px)"></i><i style="top:493px;background:linear-gradient(90deg,#f2670d,#c8c637 40px,#bed441 51px,#30c9cf 99px,#1481eb 133px,#0163fe 168px,#06f 222px,#00b1ff 319px,#00b3ff 391px,#0083fe 564px,#0068ee 565px,#001cc0 566px)"></i><i style="top:494px;background:linear-gradient(90deg,#acb253,#37b9c8 35px,#267bd7 63px,#0241fd 105px,#013afe 144px,#017efe 211px,#06e4f9 303px,#0df 356px,#09f 471px,#0078fe 564px,#005feb 565px,#001ab5 566px)"></i><i style="top:495px;background:linear-gradient(90deg,#2d6acd,#0234f9 40px,#011bf9 76px,#022cfd 109px,#0f80f0 162px,#16e5e9 232px,#1af9e5 288px,#00f3ff 338px,#009eff 427px,#0073ff 534px,#006efe 564px,#0057e8 565px,#0018ab 566px)"></i><i style="top:496px;background:linear-gradient(90deg,#0217ea,#0215f3 39px,#023afb 69px,#2b8ed4 112px,#38d6c7 144px,#57e7a8 177px,#38fec7 249px,#02f1fd 324px,#008cff 411px,#0071ff 512px,#006ffe 564px,#0058e8 565px,#0018aa 566px)"></i><i style="top:497px;background:linear-gradient(90deg,#0222ec,#083ef2 20px,#3381ca 52px,#3ebdc1 75px,#9ccc63 105px,#b8f547 137px,#adfe52 166px,#42febd 234px,#07e4f8 297px,#0084ff 385px,#0074ff 471px,#007bfe 564px,#0061ea 565px,#001bb1 566px)"></i><i style="top:498px;background:linear-gradient(90deg,#3782c4,#3dafc2 18px,#c3c23c 54px,#d6ab29 84px,#ecb213 105px,#eef411 140px,#cdfe32 158px,#50f6af 204px,#0edef1 246px,#00b1ff 296px,#0080ff 372px,#0085ff 507px,#008dfe 564px,#0070ed 565px,#001fbd 566px)"></i><i style="top:499px;background:linear-gradient(90deg,#c8a137,#d2832d 23px,#f77b08 51px,#fb9804 88px,#dcd423 120px,#c0f83f 137px,#1adae5 195px,#05a4fa 233px,#0091ff 282px,#009aff 433px,#009cfe 564px,#007cef 565px,#0022c4 566px)"></i><i style="top:500px;background:linear-gradient(90deg,#fc4503,#fb5704 30px,#f27f0d 54px,#c8c737 88px,#bdd142 97px,#30cfcf 141px,#1292ed 173px,#0179fe 208px,#007dff 256px,#00a8ff 312px,#00b8ff 437px,#00a6ff 546px,#00a3fe 564px,#0081ef 565px,#0023c4 566px)"></i><i style="top:501px;background:linear-gradient(90deg,#fa4f05,#cb9234 29px,#c1bf3e 49px,#37bac8 84px,#247bdb 109px,#0258fd 147px,#0054ff 190px,#0083ff 245px,#05d5fa 306px,#00dcff 375px,#00a7ff 532px,#00a0fe 564px,#007fec 565px,#0023bb 566px)"></i><i style="top:502px;background:linear-gradient(90deg,#c2af3d,#37afc8 32px,#2d75d0 54px,#0239fb 88px,#0223fd 109px,#0040ff 164px,#017afe 212px,#0fedf0 278px,#0df8f2 323px,#0ef 370px,#00a4ff 511px,#009afe 564px,#007ae9 565px,#0021af 566px)"></i><i style="top:503px;background:linear-gradient(90deg,#3474c5,#073ef4 28px,#0113f7 66px,#0223fd 103px,#1088ef 178px,#15b1ea 206px,#1fe6e0 230px,#31f8ce 261px,#01f7fe 351px,#00b2ff 443px,#009bfe 564px,#007be8 565px,#02a 566px)"></i><i style="top:504px;background:linear-gradient(90deg,#021aea,#010ef2 33px,#0234fa 66px,#378cc8 108px,#3fd2c0 149px,#57e2a8 181px,#59efa6 207px,#53feac 244px,#04f0fb 329px,#00b1ff 416px,#00a8fe 564px,#0085e8 565px,#0024ad 566px)"></i><i style="top:505px;background:linear-gradient(90deg,#0219ea,#073cf3 24px,#3784c7 56px,#3eafc1 72px,#c1b33e 101px,#cce533 152px,#c8fe37 175px,#29f6d6 265px,#09eaf6 293px,#00baff 387px,#00c2fe 564px,#009aeb 565px,#002ab7 566px)"></i><i style="top:506px;background:linear-gradient(90deg,#3471c6,#3babc4 22px,#c8ac37 53px,#d1732e 76px,#f95006 100px,#fbc804 150px,#e3fe1c 176px,#4df5b2 225px,#10e5ef 253px,#02cdfd 283px,#02d5fd 401px,#00e0fe 564px,#00b2ee 565px,#0031c2 566px)"></i><i style="top:507px;background:linear-gradient(90deg,#c1ac3e,#d46b2b 28px,#fd4202 56px,#fc3203 84px,#fc4903 102px,#c6f339 159px,#2ae5d5 210px,#15ceea 223px,#01b4fe 249px,#00bfff 282px,#02d9fd 310px,#0df6f2 420px,#01f4fd 564px,#01c1ee 565px,#0035c5 566px)"></i><i style="top:508px;background:linear-gradient(90deg,#fa4705,#fb2d04 29px,#fd4802 56px,#d2732d 83px,#bfbd40 112px,#33d6cc 162px,#0a9cf5 206px,#0197fe 238px,#0df5f2 304px,#23ffdc 400px,#05fefa 550px,#04fbfa 564px,#03c7eb 565px,#0136bf 566px)"></i><i style="top:509px;background:linear-gradient(90deg,#fc3a03,#ea5215 18px,#c88937 43px,#c0af3f 59px,#37aec8 90px,#3790c8 104px,#0d70f2 148px,#016cfe 190px,#0186fe 218px,#15f1ea 272px,#2fffd0 317px,#25ffda 416px,#04fdfb 539px,#01fafd 564px,#01c6e9 565px,#0036b4 566px)"></i><i style="top:510px;background:linear-gradient(90deg,#c89737,#c0ac3f 9px,#37aac8 39px,#2e6dcf 63px,#023efd 93px,#0238fd 121px,#0276fd 185px,#0faaf0 213px,#20eadf 238px,#3afcc5 265px,#2dffd2 365px,#03fdfc 489px,#00f6fe 564px,#00c3e8 565px,#0036ab 566px)"></i><i style="top:511px;background:linear-gradient(90deg,#3785c4,#265cd4 17px,#0231fa 43px,#0221f8 73px,#023dfd 94px,#2ee1d1 202px,#58f4a7 223px,#54ffab 260px,#18ffe7 362px,#01fdfe 477px,#02f8fc 564px,#02c5e6 565px,#0036a9 566px)"></i><i style="top:512px;background:linear-gradient(90deg,#0224ed,#0215f0 28px,#0233fb 53px,#2a87d5 84px,#37cfc8 102px,#80e87f 155px,#8efe71 217px,#23fddc 289px,#06fff9 374px,#0bfcf3 564px,#09c7e0 565px,#0337ac 566px)"></i><i style="top:513px;background:linear-gradient(90deg,#021beb,#073df3 19px,#317ecb 42px,#40bebf 60px,#abd754 86px,#cbf434 106px,#dafe25 155px,#b4ff4b 203px,#33f6cc 250px,#0cf6f3 276px,#0bfff4 372px,#1cfce2 564px,#16c8d5 565px,#0637b2 566px)"></i><i style="top:514px;background:linear-gradient(90deg,#3773c3,#3daec1 18px,#c1c23e 44px,#d9b526 68px,#f5cf0a 91px,#f6e609 107px,#d5fe2a 155px,#85fd7a 202px,#16ebe9 235px,#06dcf9 259px,#09fef6 296px,#30ffcf 438px,#29fdd5 564px,#21c8cc 565px,#0937b4 566px)"></i><i style="top:515px;background:linear-gradient(90deg,#c8a837,#d07e2f 21px,#f47a0b 40px,#fba604 68px,#cfe430 95px,#c1f03e 103px,#21dfde 203px,#0bbef4 223px,#01d2fe 256px,#19fce6 288px,#34ffcb 306px,#46ffb9 404px,#2fffd0 550px,#2ffdd0 564px,#25c8c8 565px,#0a37b2 566px)"></i><i style="top:516px;background:linear-gradient(90deg,#fb3a03,#fb4104 19px,#f47f0b 43px,#c8cc37 67px,#b8d347 74px,#36cac9 100px,#1d9ae2 147px,#01a0fe 216px,#0cdef3 252px,#23f9dc 270px,#62ff9d 303px,#53ffac 401px,#30ffcf 538px,#2efdd1 564px,#24c8c7 565px,#0a37ac 566px)"></i><i style="top:517px;background:linear-gradient(90deg,#fa2c02,#f24d0d 10px,#c89f37 31px,#c3c03c 40px,#38bdc7 64px,#206fde 83px,#0246fd 103px,#0157fe 158px,#0190fe 201px,#21f1de 241px,#6bff94 280px,#7eff81 307px,#34ffcb 497px,#2dfdd1 564px,#24c8c5 565px,#0a37a3 566px)"></i><i style="top:518px;background:linear-gradient(90deg,#c78e37,#c0ab3f 7px,#38b0c7 28px,#2c74d0 44px,#0238fa 67px,#0110fa 90px,#0010ff 109px,#015afe 159px,#0c99f3 185px,#2de9d2 213px,#65fc9a 236px,#80ff7f 268px,#7dff82 314px,#3fffc0 444px,#36fdc8 564px,#2ac8bd 565px,#0c379d 566px)"></i><i style="top:519px;background:linear-gradient(90deg,#3784c4,#285ed2 12px,#0230f8 31px,#0008f4 63px,#000aff 104px,#025bfd 137px,#2ac6d5 171px,#3be1c4 180px,#84f57b 203px,#9dff62 230px,#59ffa6 345px,#45ffba 486px,#45fdb9 564px,#37c8b1 565px,#0f379a 566px)"></i><i style="top:520px;background:linear-gradient(90deg,#0223ec,#0003ef 34px,#021dfb 87px,#0242fd 104px,#2ea6d1 132px,#3cd5c3 143px,#a3ec5c 170px,#d5fe2a 196px,#b6ff49 221px,#5dffa2 269px,#5cffa3 299px,#58ffa7 423px,#5cfda2 564px,#49c8a0 565px,#14379b 566px)"></i><i style="top:521px;background:linear-gradient(90deg,#0005e9,#022ef9 47px,#2162dd 76px,#37b2c8 103px,#45c3ba 109px,#b4db4b 133px,#cce433 144px,#eae015 166px,#eefa11 188px,#cfff30 203px,#53feac 239px,#3fc 261px,#49ffb6 290px,#5bffa4 309px,#7bff84 467px,#7dfd81 564px,#63c888 565px,#1b379d 566px)"></i><i style="top:522px;background:linear-gradient(90deg,#0638f3,#3477c8 31px,#3eb4c0 56px,#c2c83d 93px,#d9b326 115px,#f9be06 137px,#f1d80e 159px,#ccfa33 181px,#25f5da 226px,#0efff1 250px,#4dffb2 287px,#6dff92 305px,#a4ff5b 419px,#9efd61 564px,#7dc870 565px,#22379b 566px)"></i><i style="top:523px;background:linear-gradient(90deg,#40a7bf,#c8b237 34px,#d28d2d 61px,#f78808 90px,#fba404 118px,#d4da2b 145px,#bfef40 154px,#27e3d8 194px,#0fcff0 213px,#04f9fb 245px,#51ffae 278px,#93ff6c 303px,#c7ff38 385px,#b8fd47 564px,#92c85b 565px,#283795 566px)"></i><i style="top:524px;background:linear-gradient(90deg,#c96d34,#f0530f 24px,#fc5203 45px,#fc7503 78px,#dda322 104px,#c3da3c 122px,#46dab9 149px,#31d2ce 156px,#15aaea 176px,#01abfe 201px,#0bedf4 235px,#2dffd2 251px,#c5ff3a 300px,#e4ff1b 376px,#c7fd37 564px,#9ec84d 565px,#2b378b 566px)"></i><i style="top:525px;background:linear-gradient(90deg,#f52103,#fc3703 22px,#f2600d 42px,#c8ad37 74px,#bfc440 86px,#65c09a 106px,#37c5c8 116px,#1a89e5 138px,#027cfd 160px,#0190fe 187px,#0dcbf2 211px,#2ff8d0 230px,#aeff51 269px,#eaff15 304px,#e4ff1b 415px,#ccfd32 564px,#a1c847 565px,#2c3781 566px)"></i><i style="top:526px;background:linear-gradient(90deg,#e14c1b,#c88a37 22px,#c2b43d 37px,#37b4c8 70px,#2b79d4 92px,#0658f9 113px,#014bfe 138px,#0179fe 168px,#0eaaf1 185px,#3dedc2 206px,#af5 236px,#d6ff29 264px,#f2ff0d 308px,#d1ff2e 501px,#cefd30 564px,#a3c845 565px,#2d377e 566px)"></i><i style="top:527px;background:linear-gradient(90deg,#83a27b,#37a7c8 18px,#2e6fce 41px,#0236fa 74px,#0115fe 103px,#0040ff 135px,#0a8cf5 159px,#31d0ce 176px,#3fe2c0 181px,#aceb53 201px,#dff620 220px,#eaff15 242px,#df2 290px,#d9ff26 325px,#d3fd2b 564px,#a7c946 565px,#2e388f 566px)"></i><i style="top:528px;background:linear-gradient(90deg,#1e4eda,#022ff6 21px,#0007f6 69px,#000bff 104px,#0251fd 127px,#137cec 138px,#3ed4c1 157px,#b8de47 176px,#cdda32 182px,#ecbf13 197px,#faee05 222px,#d9ff26 245px,#b7ff48 274px,#d3f52c 325px,#dbed24 377px,#dbff24 492px,#d9fd26 564px,#acd14c 565px,#3158b6 566px)"></i><i style="top:529px;background:linear-gradient(90deg,#010ce6,#0007f4 59px,#0224fc 100px,#0c57f3 111px,#37afc8 128px,#3ec6c1 133px,#c6d239 152px,#eaa415 170px,#fca603 185px,#f1cc0e 205px,#d2fa2d 223px,#90ff6f 249px,#8efe71 270px,#c1f23e 293px,#dae425 309px,#f2d60d 319px,#f2a60d 341px,#f6af09 389px,#f1e10e 444px,#e6ea19 464px,#e1fe1e 520px,#dffd1f 564px,#baeb44 565px,#51b7ab 566px)"></i><i style="top:530px;background:linear-gradient(90deg,#0107e7,#0236f9 52px,#347ccb 96px,#37a3c8 105px,#3fb7c0 109px,#c7c038 126px,#d69829 137px,#fa8705 151px,#fc8f03 168px,#edaf12 182px,#c4ec3b 200px,#77fe88 219px,#5fa 237px,#5efea1 247px,#90f36f 266px,#ade952 273px,#e9d816 285px,#f2930d 306px,#fe5a01 331px,#fe4b01 358px,#ff7200 429px,#f9ab06 471px,#f7de08 503px,#ebe314 540px,#eae515 564px,#dbe124 565px,#b2d94d 566px)"></i><i style="top:531px;background:linear-gradient(90deg,#1141e7,#3783c6 36px,#3eaec1 58px,#c8af37 100px,#d1822e 111px,#f96a06 124px,#fc6903 140px,#f38e0c 155px,#cfce30 171px,#c1e33e 176px,#51eeae 197px,#23f6dc 211px,#1fffe0 226px,#60f89f 242px,#7eed81 247px,#dcd723 261px,#f4870b 278px,#fe4901 299px,#fd1a00 335px,#fe2300 419px,#f40 464px,#fd7902 507px,#f78d07 565px,#f18d0e 566px)"></i><i style="top:532px;background:linear-gradient(90deg,#5fa6a0,#c8ab37 32px,#d1732e 63px,#fc4303 105px,#fc5303 120px,#f1760e 131px,#cabb35 146px,#c1d43e 152px,#49dfb6 171px,#32e0cd 177px,#14c9eb 192px,#05dcfa 207px,#39f9c6 224px,#68ec97 229px,#d0d62f 240px,#ed8a12 253px,#fd5601 266px,#fd2000 287px,#f70500 327px,#fc1000 464px,#fe3400 556px,#fe3501 566px)"></i><i style="top:533px;background:linear-gradient(90deg,#d76528,#fd4002 37px,#fc3203 76px,#fc4a03 101px,#cf8e30 117px,#bfc440 128px,#38d2c7 147px,#16a9e9 165px,#04abfb 182px,#0fc1f0 192px,#37dac8 207px,#42e8bd 210px,#c6d439 223px,#ef7e10 235px,#fd4c02 245px,#fc1500 266px,#f10000 311px,#fa0900 566px)"></i><i style="top:534px;background:linear-gradient(90deg,#fb2b04,#fc4803 37px,#d1742e 74px,#c8a737 100px,#b9b546 104px,#38bfc7 120px,#2896d7 132px,#0482fb 150px,#0c9ef3 165px,#37b3c8 182px,#3fdac0 189px,#c7c538 206px,#e08b1f 215px,#fc5402 225px,#fc1b00 239px,#f30400 262px,#ec0000 470px,#f00000 566px)"></i><i style="top:535px;background:linear-gradient(90deg,#d5672a,#c89337 25px,#c2af3d 40px,#37afc8 84px,#2e7fd1 105px,#045ffb 122px,#0468fb 131px,#0e7bf1 140px,#3288cd 152px,#3ecdc1 163px,#c4be3b 181px,#d78e28 193px,#fb4d02 208px,#fb1100 224px,#ec0000 260px,#ea0000 566px)"></i><i style="top:536px;background:linear-gradient(90deg,#5aa7a5,#37a6c8 13px,#2f6ece 45px,#023cfd 89px,#0436fb 105px,#0b5af4 116px,#2c64d3 125px,#3bc0c4 137px,#c2b53d 153px,#d78428 167px,#fa4b02 184px,#f90f00 206px,#ea0000 243px,#e90000 566px)"></i><i style="top:537px;background:linear-gradient(90deg,#0f40e9,#022bf5 21px,#0009ff 81px,#0214fd 90px,#083ef7 97px,#2847d7 103px,#378dc8 110px,#41b5be 115px,#bdae42 127px,#c89c37 133px,#da7625 142px,#fa4702 156px,#f91301 176px,#ea0000 222px,#e80000 566px)"></i><i style="top:538px;background:linear-gradient(90deg,#0106e6,#0206fd 79px,#0736f8 85px,#2841d7 89px,#378fc8 94px,#3baac4 96px,#b5a74a 105px,#c8a437 108px,#d07e2f 116px,#f94502 130px,#f71401 146px,#eb0000 189px,#e80000 566px)"></i><i style="top:539px;background:linear-gradient(90deg,#0000df,#0205fa 69px,#0534f9 75px,#2a3fd5 79px,#43a7bc 85px,#b4a44b 90px,#c89e37 92px,#d3732b 98px,#f94302 108px,#f71501 120px,#eb0000 155px,#e80000 566px)"></i><i style="top:540px;background:linear-gradient(90deg,#0002df,#0208f7 57px,#0935f3 65px,#2a3cd4 69px,#3fa5c0 75px,#b8a146 80px,#c89537 82px,#d36f2a 86px,#f93f03 92px,#f61702 99px,#ec0100 125px,#e80000 566px)"></i><i style="top:541px;background:linear-gradient(90deg,#0226e3,#0229ec 25px,#1135e4 43px,#2e3bce 56px,#3782c7 62px,#3ba1c3 64px,#b99f46 70px,#c89237 72px,#d26e2c 76px,#f84104 81px,#f41401 87px,#ec0100 102px,#e80000 566px)"></i><i style="top:542px;background:linear-gradient(90deg,#378ac1,#377dc3 15px,#3ba7c1 35px,#909c6d 53px,#c89737 59px,#cd7030 65px,#f74004 71px,#f41302 77px,#ea0000 90px,#e80000 566px)"></i><i style="top:543px;background:linear-gradient(90deg,#c89f37,#c87536 34px,#ec4c0f 55px,#f82602 62px,#ee0100 75px,#e90000 566px)"></i><i style="top:544px;background:linear-gradient(90deg,#fd6d02,#fd3202 28px,#f21302 40px,#e80000 81px,#eb0000 566px)"></i><i style="top:545px;background:linear-gradient(90deg,#ff5700,#f90200 35px,#eb0100 45px,#f10100 566px)"></i><i style="top:546px;background:linear-gradient(90deg,#ff5400,#f70000 35px,#e90000 44px,#f20a00 127px,#fa2801 198px,#f50300 337px,#fc0e00 566px)"></i><i style="top:547px;background:linear-gradient(90deg,#ff5400,#f70000 35px,#e80000 44px,#f10a00 95px,#f93002 118px,#ec5d11 139px,#d98326 177px,#ec7a12 223px,#fd5202 261px,#fd1800 335px,#fe2800 463px,#fe4301 566px)"></i><i style="top:548px;background:linear-gradient(90deg,#ff5800,#f70000 35px,#e90000 45px,#f00800 80px,#f82902 90px,#ec5510 99px,#c89036 117px,#c1af3d 130px,#77a787 153px,#65ad98 177px,#84ba7a 212px,#c9d136 246px,#f88107 298px,#fe4b01 344px,#fd6502 439px,#ea9815 529px,#e5a01a 566px)"></i><i style="top:549px;background:linear-gradient(90deg,#fe7801,#ff2500 24px,#f40200 37px,#f00900 67px,#f82a02 77px,#ef500d 82px,#c88336 89px,#bea740 96px,#5fa896 108px,#37a9b8 115px,#2f5dbb 134px,#1935ce 154px,#1640d2 193px,#236cc9 218px,#3bc6c3 247px,#b4dd4b 294px,#d5d22a 310px,#eca313 343px,#e1b81e 420px,#c6de39 470px,#9ad665 518px,#88d277 566px)"></i><i style="top:550px;background:linear-gradient(90deg,#f1c70e,#dca523 5px,#f96f06 18px,#fd3602 32px,#f51c02 42px,#f71e02 59px,#f14b0b 68px,#c88236 76px,#c5a139 80px,#3fa9b0 88px,#2a44c2 99px,#1935c4 105px,#022cba 118px,#0104ad 150px,#010bac 204px,#0229cd 234px,#053ee5 248px,#39cfc5 299px,#91de6e 334px,#9ce163 361px,#69d796 443px,#30c5ce 482px,#269bd3 521px,#2088d5 566px)"></i><i style="top:551px;background:linear-gradient(90deg,#dad425,#9ed961 4px,#bde042 11px,#c6d939 18px,#b7d748 21px,#c8c137 26px,#c88537 33px,#c77237 44px,#c87435 56px,#c88f36 64px,#bfa040 67px,#3aa4b5 75px,#2c43c4 82px,#1835c3 85px,#022cbb 90px,#0103ba 102px,#000091 172px,#0002a0 234px,#011bc6 270px,#023be9 292px,#26b3d8 342px,#25acda 381px,#0d63e4 459px,#022ce4 502px,#0120ce 566px)"></i><i style="top:552px;background:linear-gradient(90deg,#f1860e,#dcb223 5px,#dcd723 8px,#70f78f 16px,#64fc9b 19px,#3df3c2 24px,#3896c7 30px,#377dc8 32px,#3787c1 39px,#3aa7be 48px,#44a6b0 53px,#379ebe 58px,#2f42c8 68px,#1635c5 72px,#0226cc 77px,#0103cb 84px,#0000b9 101px,#0000a9 141px,#00008f 167px,#00019c 267px,#0010bf 305px,#0234eb 339px,#0239eb 368px,#0122da 420px,#0002a9 517px,#0001a2 566px)"></i><i style="top:553px;background:linear-gradient(90deg,#ec8813,#fc7c03 6px,#e3961c 12px,#c4da3b 17px,#3bf2c4 25px,#0772f8 33px,#0344f6 37px,#0239e1 41px,#033fec 47px,#0736d6 52px,#0229e2 61px,#0107e1 71px,#0000b7 134px,#00008f 165px,#00019a 304px,#0007b8 352px,#000092 532px,#000091 566px)"></i><i style="top:554px;background:linear-gradient(90deg,#9bcb64,#c5cf3a 3px,#ed8712 10px,#fb7f04 15px,#d9bd26 22px,#c4e23b 25px,#61d99e 31px,#36d2c9 33px,#0e7ded 38px,#0039f8 43px,#003af9 47px,#0013f2 51px,#0013f7 81px,#0000eb 97px,#00008f 164px,#000092 445px,#000090 566px)"></i><i style="top:555px;background:linear-gradient(90deg,#28c6d7,#3ef0c1 4px,#bfd040 12px,#e2a31d 18px,#f6ac09 23px,#efbf10 27px,#ddd722 30px,#b3f84c 33px,#21d3de 40px,#0695f8 43px,#08f 47px,#004ffe 50px,#003dff 75px,#0000f4 98px,#000093 156px,#00008f 566px)"></i><i style="top:556px;background:linear-gradient(90deg,#24eadb,#2febd0 6px,#4bddb4 11px,#5cf3a3 14px,#cce433 23px,#dcd423 29px,#daf325 33px,#b7fe48 36px,#56f6a9 41px,#1be5e4 43px,#0adbf5 44px,#08ddf7 46px,#01befe 48px,#0093ff 50px,#005bff 73px,#0001f7 96px,#0000b5 125px,#00008f 162px,#00008f 566px)"></i><i style="top:557px;background:linear-gradient(90deg,#79fe86,#74f78b 12px,#88fc77 25px,#8ef571 28px,#9cf663 31px,#83fb7c 36px,#57f8a8 41px,#24f9db 43px,#18f9e7 44px,#1cfae3 46px,#04e7fb 48px,#00bcff 50px,#0005f6 91px,#0000c4 108px,#000095 146px,#00008f 566px)"></i><i style="top:558px;background:linear-gradient(90deg,#73f78c,#a8fe57 22px,#affe50 29px,#92fe6d 31px,#33fccc 35px,#20e3df 37px,#13daec 42px,#11f3ee 44px,#19f7e6 46px,#04e2fb 48px,#00b5ff 50px,#001df9 78px,#0003e5 88px,#0000b3 106px,#000091 148px,#00008f 566px)"></i><i style="top:559px;background:linear-gradient(90deg,#1fc3e0,#33d8cc 7px,#91f96e 28px,#88fa77 30px,#07dff8 36px,#018ffe 40px,#0189fe 41px,#04c6fb 44px,#07cff8 46px,#01b1fe 48px,#0083ff 50px,#0028f9 66px,#0008e9 76px,#0000a5 103px,#000090 157px,#00008f 566px)"></i><i style="top:560px;background:linear-gradient(90deg,#0153fd,#1586e8 16px,#24c8da 30px,#028dfd 36px,#0047fb 40px,#0040fc 41px,#007ffe 45px,#0076fe 47px,#003efc 50px,#000dec 62px,#0000a9 89px,#000092 125px,#00008f 566px)"></i><i style="top:561px;background:linear-gradient(90deg,#0010f4,#012df1 22px,#024df0 30px,#000eeb 41px,#002ff7 45px,#0020f5 48px,#000be3 51px,#0000a1 82px,#000090 131px,#00008f 566px)"></i><i style="top:562px;background:linear-gradient(90deg,#0001d2,#0006c6 35px,#0001c7 41px,#0008d9 46px,#0000b4 55px,#000093 90px,#00008f 566px)"></i><i style="top:563px;background:linear-gradient(90deg,#0000b1,#00a 41px,#0000b4 47px,#00009c 57px,#00008f 144px,#00008f 566px)"></i><i style="top:564px;background:linear-gradient(90deg,#00009d,#00009e 44px,#000090 95px,#00008f 566px)"></i><i style="top:565px;background:#000094"></i><i style="top:566px;background:#000091"></i><i style="top:567px;background:#000090"></i><i style="top:568px;background:#000090"></i><i style="top:569px;background:#00008f"></i><i style="top:570px;background:#00008f"></i><i style="top:571px;background:#00008f"></i><i style="top:572px;background:#00008f"></i><i style="top:573px;background:#000090"></i><i style="top:574px;background:#000090"></i><i style="top:575px;background:#000091"></i><i style="top:576px;background:#000095"></i><i style="top:577px;background:linear-gradient(90deg,#0000a0,#0000a0 43px,#000090 94px,#00008f 566px)"></i><i style="top:578px;background:linear-gradient(90deg,#0000b6,#0000ae 41px,#00b 47px,#0000a0 56px,#000090 118px,#00008f 566px)"></i><i style="top:579px;background:linear-gradient(90deg,#0004d8,#000fcf 26px,#0005ca 38px,#000adf 47px,#0000ba 55px,#000095 87px,#00008f 566px)"></i><i style="top:580px;background:linear-gradient(90deg,#0019f6,#0138f3 19px,#0763ec 30px,#003cf2 36px,#0013f3 41px,#003df9 45px,#002df7 48px,#000eeb 51px,#0000ae 76px,#000092 110px,#00008f 566px)"></i><i style="top:581px;background:linear-gradient(90deg,#0462fb,#23bbdb 21px,#39d7c5 28px,#38d8c7 30px,#16c9e9 33px,#0190fe 37px,#0052fe 40px,#004cfe 41px,#08f 44px,#0091fe 46px,#0075ff 48px,#004bfe 50px,#000dee 64px,#0000ac 90px,#000093 124px,#00008f 566px)"></i><i style="top:582px;background:linear-gradient(90deg,#28d7d7,#8ffb70 24px,#a0fd5f 29px,#7dfd82 31px,#0ae8f5 36px,#049afb 40px,#0397fc 41px,#05d3fa 44px,#08ddf7 46px,#01befe 48px,#0090ff 50px,#0028f9 68px,#0007e7 79px,#0000a7 104px,#000090 155px,#00008f 566px)"></i><i style="top:583px;background:linear-gradient(90deg,#7bfd84,#9ffe60 19px,#aafe55 26px,#b2fe4d 29px,#92fe6d 31px,#33fccc 35px,#26ecd9 39px,#16ebe9 42px,#13f7ec 44px,#1cfae3 46px,#04e7fb 48px,#00baff 50px,#0017f9 81px,#0000de 92px,#0000b4 108px,#000091 149px,#00008f 566px)"></i><i style="top:584px;background:linear-gradient(90deg,#70f68f,#68f197 9px,#6ffe90 15px,#7bf784 24px,#b4f14b 30px,#89fe76 37px,#5cfda3 41px,#23fbdc 43px,#16f7e9 44px,#19f7e6 46px,#04e2fb 48px,#00b7ff 50px,#003cff 79px,#0002f0 94px,#0000c2 111px,#000094 149px,#00008f 566px)"></i><i style="top:585px;background:linear-gradient(90deg,#20dedf,#3bcfc4 7px,#45d7ba 9px,#56f3a9 12px,#cce133 21px,#e2c91d 28px,#e1e71e 32px,#c5fd3a 35px,#4defb2 41px,#13ddec 43px,#07d0f8 45px,#04c6fb 47px,#0087ff 50px,#0058ff 73px,#0000f6 97px,#0000a4 138px,#00008f 170px,#00008f 566px)"></i><i style="top:586px;background:linear-gradient(90deg,#33d9cc,#3ceac3 2px,#afce50 9px,#cdc232 12px,#e39a1c 16px,#f8a207 21px,#ebba14 26px,#c5ee3a 31px,#47deb8 37px,#22cddd 39px,#0381fb 43px,#0076fe 47px,#0042fc 50px,#0032ff 77px,#0000f3 98px,#000090 160px,#00008f 566px)"></i><i style="top:587px;background:linear-gradient(90deg,#bbd044,#c9c736 2px,#e68e19 7px,#fb7b04 13px,#e89b17 18px,#c7dd38 23px,#44d5bb 31px,#21a6de 34px,#024bf2 40px,#012af5 43px,#012cf6 47px,#0110eb 51px,#0005f2 89px,#00008f 164px,#00009a 338px,#000090 566px)"></i><i style="top:588px;background:linear-gradient(90deg,#f68109,#f5830a 7px,#d8ab27 12px,#c3dc3c 16px,#43f8bc 23px,#0a87f5 31px,#0458f7 35px,#0d3dd1 41px,#173cd2 47px,#1c36c5 53px,#0b36d2 60px,#0218e0 68px,#0104dd 74px,#0000b2 137px,#00008f 165px,#00019a 296px,#000ec0 353px,#00019f 464px,#000093 566px)"></i><i style="top:589px;background:linear-gradient(90deg,#e5921a,#e1d61e 6px,#82f07d 13px,#81f87e 18px,#42ebbd 24px,#38a3c7 29px,#3aa8c1 36px,#5ea198 43px,#7d9e77 52px,#62a290 58px,#3aa6ba 62px,#2f43c7 71px,#1435c4 75px,#0223c8 80px,#0102c6 87px,#0001b6 103px,#0000a6 143px,#000090 167px,#00019c 260px,#0010bd 295px,#0236ea 327px,#0457ec 347px,#0241eb 397px,#0123db 443px,#0007b4 505px,#0002aa 566px)"></i><i style="top:590px;background:linear-gradient(90deg,#b9d146,#a5d55a 2px,#c7de38 8px,#d6c629 20px,#c87d37 31px,#dc591f 49px,#d2672a 59px,#c88d36 67px,#bfa03f 70px,#42a7ad 77px,#2437c7 86px,#022ebb 93px,#0103b9 109px,#000092 170px,#0002a2 228px,#0227d6 271px,#0240e9 284px,#2fd1cf 342px,#2cc7d3 387px,#1473df 464px,#0236e8 520px,#022ade 566px)"></i><i style="top:591px;background:linear-gradient(90deg,#e6ab19,#e4971b 4px,#fd6202 18px,#f51602 38px,#f31502 59px,#f83102 67px,#eb5111 72px,#c88536 79px,#c2a33c 83px,#40aaaf 91px,#3159ba 102px,#1d35c8 110px,#022fbd 125px,#020daa 158px,#021fbb 215px,#073de3 239px,#39cec5 288px,#a6e159 333px,#b4e34b 359px,#7fd97f 446px,#32c7cc 506px,#29a4d1 561px,#29a4d1 566px)"></i><i style="top:592px;background:linear-gradient(90deg,#fe6b01,#f90200 35px,#eb0100 45px,#f10b00 71px,#f82e02 80px,#ed520f 85px,#c88836 93px,#c0a93e 101px,#60a896 115px,#37a9b8 123px,#2e60bb 147px,#224ec6 171px,#2977c3 209px,#3cc2c2 237px,#b8dc47 284px,#d4cf2b 299px,#f3940c 339px,#eca013 412px,#d5cd2a 472px,#bddd42 501px,#a3d65c 566px)"></i><i style="top:593px;background:linear-gradient(90deg,#ff5600,#f70000 35px,#e90000 44px,#f10900 83px,#f83202 95px,#e65e17 108px,#c89236 125px,#c0b13e 141px,#93ac6b 164px,#9ab964 202px,#c8cb37 234px,#fc7903 291px,#fe3e00 341px,#fe5301 439px,#f68209 514px,#ef8c10 566px)"></i><i style="top:594px;background:linear-gradient(90deg,#ff5400,#f70000 35px,#e80000 44px,#f10900 99px,#f92e02 125px,#f05a0d 149px,#eb6f14 198px,#fd5902 239px,#fd1a00 314px,#fc1100 385px,#fe3501 566px)"></i><i style="top:595px;background:linear-gradient(90deg,#f50,#f70000 35px,#e90000 45px,#f20a00 136px,#fb1900 221px,#f30200 366px,#fa0900 566px)"></i><i style="top:596px;background:linear-gradient(90deg,#ff5800,#f90400 35px,#ec0100 47px,#f00000 566px)"></i><i style="top:597px;background:linear-gradient(90deg,#fd7a02,#fd4802 26px,#f51c02 41px,#e90000 76px,#ea0000 566px)"></i><i style="top:598px;background:linear-gradient(90deg,#c8a837,#c89437 25px,#c77237 43px,#d66127 54px,#f83302 63px,#f10c01 71px,#e90000 89px,#e90000 566px)"></i><i style="top:599px;background:linear-gradient(90deg,#375bc1,#3755c3 18px,#3788c5 39px,#3da7bf 49px,#6fa08e 55px,#c39e3c 61px,#d36a2a 68px,#f74104 73px,#f41301 79px,#eb0000 92px,#e80000 566px)"></i><i style="top:600px;background:linear-gradient(90deg,#0212e3,#0217ed 27px,#0935ef 51px,#2b38d2 59px,#399cc5 66px,#59a4a5 68px,#b79f47 72px,#c89337 74px,#d26e2b 78px,#f84104 83px,#f51502 89px,#ec0100 106px,#e80000 566px)"></i><i style="top:601px;background:linear-gradient(90deg,#0001df,#0207f8 60px,#0734f5 67px,#293bd5 71px,#40a5bf 77px,#b9a246 82px,#c89537 84px,#d3712b 88px,#f84303 94px,#f71802 102px,#ec0100 129px,#e80000 566px)"></i><i style="top:602px;background:linear-gradient(90deg,#0001e0,#0205fb 71px,#0634f9 77px,#2a40d5 81px,#42a8bd 87px,#bea541 93px,#db6a23 103px,#f93e02 113px,#f61301 126px,#eb0000 163px,#e80000 566px)"></i><i style="top:603px;background:linear-gradient(90deg,#010de6,#0103fe 79px,#021ffd 84px,#0e38f1 88px,#263ed9 91px,#3786c8 96px,#3aabc5 99px,#c0ab3f 110px,#d67628 122px,#f94502 135px,#f71301 152px,#eb0000 198px,#e80000 566px)"></i><i style="top:604px;background:linear-gradient(90deg,#2153d8,#0230f8 32px,#010efe 84px,#0216fd 92px,#0742f8 100px,#294dd6 107px,#3799c8 115px,#3fb7c0 119px,#beaf40 132px,#c89737 140px,#f75405 158px,#fa1401 181px,#ea0000 224px,#e80000 566px)"></i><i style="top:605px;background:linear-gradient(90deg,#8ba674,#37a8c8 27px,#2f70d0 59px,#054bfa 94px,#043cfb 108px,#0a61f5 120px,#2d6ad2 130px,#3bc2c4 142px,#c0b63f 158px,#d88327 173px,#fa4902 190px,#f80e00 211px,#ea0000 250px,#e90000 566px)"></i><i style="top:606px;background:linear-gradient(90deg,#e65319,#c88837 32px,#c1b03e 54px,#37b1c8 98px,#2e85d1 110px,#0467fb 127px,#046ffb 136px,#0f82f0 145px,#3492cb 158px,#3ccfc3 168px,#c7bf38 187px,#d69329 197px,#fb5202 211px,#fb1300 227px,#ed0000 261px,#eb0000 566px)"></i><i style="top:607px;background:linear-gradient(90deg,#fb2e04,#fc3b03 40px,#ee5211 64px,#c88e37 100px,#c1b83e 108px,#39c3c6 125px,#269ad9 138px,#058afa 156px,#0ba5f4 170px,#37bdc8 188px,#41ddbe 194px,#c5cc3a 209px,#ee7710 222px,#fc4602 231px,#fb1300 247px,#e00 292px,#f10100 566px)"></i><i style="top:608px;background:linear-gradient(90deg,#c87e37,#f64c09 38px,#fc3103 82px,#fc4003 102px,#ee6311 112px,#c8b437 128px,#bec741 133px,#3ad6c5 152px,#14afeb 171px,#04b8fb 189px,#17cae8 199px,#3febc0 213px,#c6d739 226px,#f17d0e 239px,#fd4602 251px,#fc1000 275px,#e00 350px,#fc0e00 566px)"></i><i style="top:609px;background:linear-gradient(90deg,#37a5c7,#6ea790 18px,#c8ab37 46px,#d1742e 77px,#fc4a03 110px,#fc5903 125px,#f17b0e 136px,#c9c436 152px,#bad645 158px,#42e6bd 178px,#15cfea 197px,#0eeef1 214px,#40fbbf 227px,#5df0a2 231px,#cfda30 243px,#f3810c 260px,#fe3c01 279px,#fc0f00 311px,#f80600 395px,#fd1a00 467px,#ff4200 551px,#fe4301 566px)"></i><i style="top:610px;background:linear-gradient(90deg,#0233f5,#3272ca 40px,#3cafc3 71px,#a3af5c 100px,#c7b338 105px,#d2882d 116px,#f87007 129px,#fc7103 146px,#f3940c 160px,#ced731 177px,#b5e44a 183px,#52f3ad 203px,#28fcd7 219px,#2cfed3 230px,#69f796 246px,#88ec77 252px,#deda21 265px,#f4890b 283px,#fe4b01 306px,#fd2000 338px,#fe2e00 420px,#ff5000 461px,#fa8405 498px,#f5a00a 565px,#eaa015 566px)"></i><i style="top:611px;background:linear-gradient(90deg,#0003e7,#022cf9 59px,#134eeb 83px,#2c71d3 101px,#41babe 114px,#c7c538 131px,#d99a26 143px,#fc8b03 160px,#fc9f03 177px,#d8d927 198px,#c1f03e 206px,#72ff8d 228px,#60ff9f 248px,#98f467 270px,#acea53 277px,#ecd713 291px,#fb8404 320px,#fe5b01 346px,#ff7400 407px,#f8a307 456px,#f1df0e 488px,#e9eb16 564px,#d5e52a 565px,#9dd762 566px)"></i><i style="top:612px;background:linear-gradient(90deg,#0215e7,#0003f3 54px,#021bfd 101px,#0c5df3 116px,#37b4c8 133px,#3fc9c0 138px,#c5d53a 157px,#eaa915 175px,#fcad03 191px,#efdb10 212px,#d3fc2c 228px,#98ff67 254px,#9afe65 276px,#cdf132 300px,#d5e62a 314px,#f2d80d 326px,#f3b50c 347px,#f7cf08 402px,#eae215 432px,#e0fe1f 502px,#defd21 564px,#b7e546 565px,#49a1ae 566px)"></i><i style="top:613px;background:linear-gradient(90deg,#3067c9,#022ff8 32px,#0008f8 79px,#000bff 105px,#0250fd 130px,#0d7bf2 141px,#3fd7c0 162px,#bbe244 182px,#d0db2f 188px,#e9c716 201px,#f7f608 228px,#c0ff3f 274px,#d5f52a 335px,#dcfe23 430px,#d8fd27 564px,#abcf4a 565px,#3050aa 566px)"></i><i style="top:614px;background:linear-gradient(90deg,#b5a649,#37abc8 28px,#2e72ce 51px,#0239fb 84px,#011ffe 107px,#0046ff 139px,#0a91f5 164px,#32d9cd 182px,#4ce3b3 188px,#9ceb63 204px,#dcfb23 227px,#e2ff1d 253px,#e7ff18 298px,#d7ff28 388px,#d2fd2c 564px,#a6c845 565px,#2e3888 566px)"></i><i style="top:615px;background:linear-gradient(90deg,#f43d09,#ca8135 26px,#c1b73e 47px,#37b8c8 80px,#2b7ed4 101px,#0760f8 120px,#0157fe 146px,#0285fd 175px,#10b1ef 191px,#39efc6 211px,#af5 243px,#dbff24 276px,#f3ff0c 308px,#d1ff2e 510px,#cdfd31 564px,#a3c845 565px,#2d377e 566px)"></i><i style="top:616px;background:linear-gradient(90deg,#f72803,#fb3404 24px,#f4670b 51px,#c8b337 84px,#c1c83e 95px,#3ecbc1 121px,#178ee8 147px,#0285fd 168px,#019dfe 195px,#0fd7f0 218px,#2cf9d3 234px,#b1ff4e 275px,#e6ff19 304px,#e8ff17 409px,#ceff31 562px,#ccfd32 564px,#a1c848 565px,#2c3783 566px)"></i><i style="top:617px;background:linear-gradient(90deg,#c68337,#d76728 19px,#fc5e03 51px,#fb7704 83px,#ef9510 102px,#c0de3f 129px,#44dfbb 157px,#2cced3 166px,#10afef 187px,#01c0fe 214px,#0efaf1 243px,#bcff43 302px,#dfff20 377px,#c5fd39 564px,#9cc84f 565px,#2b378d 566px)"></i><i style="top:618px;background:linear-gradient(90deg,#378ec5,#3ea9c1 11px,#c8b737 46px,#d1962e 72px,#f69209 101px,#f4b70b 132px,#c4f23b 159px,#24e5db 202px,#0dd9f2 221px,#07fff8 250px,#8aff75 304px,#c1ff3e 392px,#b3fd4b 564px,#8ec85f 565px,#273796 566px)"></i><i style="top:619px;background:linear-gradient(90deg,#0229ef,#0a3df0 14px,#378bc7 50px,#3db7c2 67px,#bbca44 102px,#c8ca37 110px,#ebbb14 134px,#fada05 158px,#cefc31 186px,#31f6ce 228px,#14ffeb 250px,#3fffc0 282px,#68ff97 305px,#9cff63 428px,#97fd67 564px,#78c875 565px,#21379c 566px)"></i><i style="top:620px;background:linear-gradient(90deg,#0004e9,#0220f4 47px,#0a47f2 71px,#2f85d0 100px,#3fc7c0 115px,#b0de4f 140px,#cdea32 152px,#ebeb14 175px,#e8ff17 196px,#4fffb0 247px,#3affc5 271px,#59ffa6 309px,#73ff8c 479px,#76fd88 564px,#5dc88e 565px,#1a379c 566px)"></i><i style="top:621px;background:linear-gradient(90deg,#0232f4,#0006ef 34px,#010ff8 81px,#022bfd 103px,#0f63f0 120px,#34cacb 146px,#44d9bb 152px,#a1f15e 178px,#cafe35 201px,#a1ff5e 233px,#60ff9f 276px,#53ffac 416px,#57fda7 564px,#45c8a4 565px,#13379a 566px)"></i><i style="top:622px;background:linear-gradient(90deg,#37a0c7,#2f6bcc 16px,#0232f8 38px,#0009f5 68px,#0008ff 105px,#0258fd 141px,#1692e9 162px,#38e3c7 187px,#7df782 210px,#94ff6b 238px,#4affb5 398px,#41fdbd 564px,#34c8b4 565px,#0e379a 566px)"></i><i style="top:623px;background:linear-gradient(90deg,#c67737,#c5af3a 13px,#38b3c7 35px,#2c76d1 51px,#023afa 74px,#0110fc 98px,#0045ff 150px,#0b9cf4 191px,#2bebd4 219px,#61fd9e 243px,#7fff80 277px,#7fff80 314px,#3dffc2 452px,#33fdcb 564px,#29c8bf 565px,#0b379e 566px)"></i><i style="top:624px;background:linear-gradient(90deg,#f62403,#f75208 15px,#c8a737 38px,#c0c33f 47px,#38c1c7 71px,#1460ea 96px,#0459fb 116px,#0169fe 172px,#019afe 208px,#23f3dc 248px,#74ff8b 293px,#75ff8a 327px,#32ffcd 506px,#2dfdd1 564px,#23c8c6 565px,#0a37a5 566px)"></i><i style="top:625px;background:linear-gradient(90deg,#e94514,#fc4503 14px,#fb6404 36px,#f18c0e 51px,#c8d537 74px,#afd650 82px,#52d0ad 102px,#31cbce 124px,#18a4e7 173px,#01a9fe 224px,#0ee7f1 260px,#2afbd5 278px,#59ffa6 304px,#53ffac 397px,#31ffce 538px,#2efdd0 564px,#25c8c7 565px,#0a37ae 566px)"></i><i style="top:626px;background:linear-gradient(90deg,#98a367,#c8ab37 10px,#d2882d 30px,#f58a0a 50px,#f4bd0b 81px,#cdf332 109px,#3de7c2 201px,#1ddde2 211px,#07c4f8 232px,#01defe 265px,#19fde6 292px,#2dffd2 310px,#42ffbd 413px,#2fffd0 554px,#2efdd0 564px,#24c8c8 565px,#0a37b3 566px)"></i><i style="top:627px;background:linear-gradient(90deg,#2557d4,#3789c5 15px,#3cb1c3 26px,#bcc543 52px,#c8c737 61px,#e8c917 88px,#f2ee0d 120px,#d6fe29 162px,#96fe69 202px,#16efe9 240px,#06e2f9 265px,#08fff7 298px,#2affd5 450px,#27fdd7 564px,#1fc8ce 565px,#0837b4 566px)"></i><i style="top:628px;background:linear-gradient(90deg,#0211ec,#063ef4 27px,#307ece 50px,#3ec1c1 68px,#a4db5b 94px,#bbf244 115px,#cdfe32 165px,#b2ff4d 204px,#2df8d2 258px,#0afbf5 288px,#0ffff0 406px,#19fce5 564px,#14c8d7 565px,#0537b1 566px)"></i><i style="top:629px;background:linear-gradient(90deg,#0232f4,#0216f1 32px,#0231fc 60px,#1d69e1 83px,#30b3cf 106px,#3dd5c2 127px,#78eb87 178px,#82fe7d 224px,#2fd 297px,#06fff9 389px,#09fbf5 564px,#07c7e2 565px,#0237ab 566px)"></i><i style="top:630px;background:linear-gradient(90deg,#37a1c7,#2f6acc 22px,#0233fb 53px,#0323f9 82px,#0b6cf4 136px,#21d1de 202px,#32e5cd 212px,#52f8ad 234px,#47ffb8 276px,#04fefb 441px,#01f8fd 564px,#01c4e6 565px,#0036a9 566px)"></i><i style="top:631px;background:linear-gradient(90deg,#c88037,#c0ad3f 19px,#37abc8 49px,#2e6ed0 73px,#0448fb 98px,#0247fd 145px,#0184fe 202px,#1dece2 245px,#36fec9 274px,#2fffd0 368px,#02fdfd 501px,#00f7fe 564px,#00c3e8 565px,#0036ac 566px)"></i><i style="top:632px;background:linear-gradient(90deg,#fc2f03,#f54b0a 22px,#c98036 48px,#c1b03e 69px,#37b0c8 100px,#2c8fd3 130px,#067af9 170px,#017dfe 214px,#12f1ed 277px,#29ffd6 315px,#28ffd7 411px,#05fefa 535px,#02fbfc 564px,#02c7ea 565px,#0036b7 566px)"></i><i style="top:633px;background:linear-gradient(90deg,#e95116,#fc3c03 18px,#fb3004 46px,#f54f0a 72px,#ca8235 98px,#c1c83e 123px,#2cd9d3 176px,#039ffc 219px,#00a1ff 249px,#0af1f5 308px,#1efee1 406px,#04fdfb 557px,#04fafb 564px,#03c6eb 565px,#0136c1 566px)"></i><i style="top:634px;background:linear-gradient(90deg,#91a66e,#c8aa37 13px,#d0712f 36px,#fd4302 66px,#fc3303 94px,#fc4803 105px,#f09c0f 132px,#c6f839 167px,#65f09a 199px,#17dee8 224px,#05bbfa 250px,#00c3ff 287px,#01d7fe 319px,#06f6f9 448px,#01f1fd 564px,#01bfee 565px,#0034c5 566px)"></i><i style="top:635px;background:linear-gradient(90deg,#2356d6,#3785c5 18px,#3bacc4 32px,#c8ad37 63px,#d2742d 86px,#ea5c15 101px,#f6d909 157px,#dfff20 178px,#44f5bb 233px,#0ee5f1 261px,#01d2fe 293px,#00caff 382px,#00dafe 564px,#00adee 565px,#002fc0 566px)"></i><i style="top:636px;background:linear-gradient(90deg,#0210ea,#073ef3 34px,#3785c7 66px,#3fafc0 82px,#95af6a 102px,#bcd843 140px,#adfd52 180px,#85fe7a 210px,#09f2f6 294px,#00b8ff 389px,#00bcfe 564px,#0095eb 565px,#0029b5 566px)"></i><i style="top:637px;background:linear-gradient(90deg,#0226ee,#010ef2 37px,#022dfb 72px,#134eeb 90px,#2c7fd3 117px,#34dbcb 172px,#44e7bb 205px,#51fcae 232px,#2afed5 285px,#02e9fd 345px,#00b0ff 423px,#00a4fe 564px,#0082e8 565px,#0024ab 566px)"></i><i style="top:638px;background:linear-gradient(90deg,#378bc5,#2964d1 17px,#0233f9 46px,#0114f9 80px,#0226fd 114px,#0ea0f1 206px,#1be7e4 239px,#2af9d5 272px,#00f7ff 355px,#00b1ff 451px,#009afe 564px,#007ae8 565px,#0021aa 566px)"></i><i style="top:639px;background:linear-gradient(90deg,#c89737,#c2b23d 10px,#37b2c8 42px,#2c77d1 64px,#023bfc 98px,#012dfe 133px,#0163fe 203px,#0ceef3 288px,#00f1ff 362px,#00a4ff 518px,#009bfe 564px,#007bea 565px,#0022b1 566px)"></i><i style="top:640px;background:linear-gradient(90deg,#fc4003,#ed6412 18px,#c8a937 46px,#bfc340 59px,#37bec8 94px,#1d7be2 125px,#025ffd 160px,#005fff 207px,#0093ff 262px,#03cbfc 307px,#00d5ff 379px,#00a7ff 537px,#00a2fe 564px,#0080ed 565px,#0023bd 566px)"></i><i style="top:641px;background:linear-gradient(90deg,#f4510b,#fb5b04 35px,#f3870c 63px,#c8cd37 98px,#bbd744 107px,#2cd3d3 152px,#0f97f0 185px,#017dfe 221px,#0087ff 272px,#00a2ff 314px,#00b0ff 457px,#00a3fe 564px,#0081ef 565px,#0023c4 566px)"></i><i style="top:642px;background:linear-gradient(90deg,#b1ac4e,#c8ad37 9px,#d18c2e 34px,#f5850a 62px,#fba704 100px,#cbfa34 141px,#73ee8c 170px,#17dbe8 205px,#04a8fb 244px,#0097ff 293px,#008dff 408px,#009afe 564px,#007aef 565px,#0021c4 566px)"></i><i style="top:643px;background:linear-gradient(90deg,#2e69cb,#3cb2c3 29px,#c1c63e 66px,#dfb720 104px,#e9fb16 145px,#75fe8a 192px,#42f4bd 217px,#0cdff3 256px,#0085ff 363px,#007aff 432px,#008afe 564px,#006dec 565px,#001ebb 566px)"></i><i style="top:644px;background:linear-gradient(90deg,#0217ea,#073ff3 31px,#3181cc 63px,#3dbfc2 86px,#80ca7f 109px,#a7f058 142px,#94fe6b 176px,#2efcd1 254px,#05e3fa 307px,#0083ff 392px,#0073ff 492px,#0078fe 564px,#005fe9 565px,#001aaf 566px)"></i><i style="top:645px;background:linear-gradient(90deg,#0222ed,#0113f2 39px,#0231fc 75px,#289bd7 130px,#31dace 161px,#43e9bc 195px,#2afed5 268px,#00efff 331px,#0090ff 414px,#0071ff 514px,#006efe 564px,#0057e8 565px,#0018aa 566px)"></i><i style="top:646px;background:linear-gradient(90deg,#3786c4,#0946f2 41px,#011efb 80px,#0128fe 113px,#11e7ee 247px,#12f9ed 305px,#0ef 344px,#00a0ff 432px,#0074ff 541px,#006ffe 564px,#0058e8 565px,#0018ad 566px)"></i><i style="top:647px;background:linear-gradient(90deg,#c8af37,#b7b948 9px,#37bec8 48px,#1868e6 88px,#0247fd 119px,#0043ff 159px,#019afe 243px,#04dcfb 311px,#00d3ff 366px,#08f 519px,#007afe 564px,#0061eb 565px,#001ab7 566px)"></i><i style="top:648px;background:linear-gradient(90deg,#fc5f03,#c8d737 54px,#9ad765 74px,#2dcbd2 111px,#1186ee 145px,#0168fe 181px,#0070ff 242px,#00a6ff 321px,#00abff 397px,#0085fe 564px,#0069ee 565px,#001dc2 566px)"></i><i style="top:649px;background:linear-gradient(90deg,#f4670b,#faae05 50px,#cefa31 98px,#87ef78 125px,#1ad4e5 168px,#059efa 205px,#0082ff 272px,#008fff 426px,#0086fe 564px,#006aef 565px,#001dc5 566px)"></i><i style="top:650px;background:linear-gradient(90deg,#b0b34f,#c8bd37 17px,#d3c52c 54px,#e5fd1a 104px,#83fe7c 154px,#19e7e6 208px,#08c6f7 248px,#0094ff 316px,#006eff 382px,#007dfe 564px,#0063ee 565px,#001bc0 566px)"></i><i style="top:651px;background:linear-gradient(90deg,#2e6dcb,#3dbfc2 43px,#8edc71 88px,#9cf863 119px,#81fe7e 161px,#35feca 212px,#05dffa 302px,#0079ff 384px,#0063ff 455px,#006cfe 564px,#0055eb 565px,#0017b5 566px)"></i><i style="top:652px;background:linear-gradient(90deg,#0218ea,#0644f4 45px,#2695d9 100px,#2fd6d0 130px,#4be8b4 165px,#21fede 255px,#04f3fb 319px,#007fff 416px,#005eff 500px,#005dfe 564px,#004ae8 565px,#0014ab 566px)"></i><i style="top:653px;background:linear-gradient(90deg,#021ceb,#000ef4 51px,#022bfc 101px,#0fcbf0 198px,#10eaef 250px,#09f7f6 312px,#00e3ff 348px,#008aff 441px,#005fff 525px,#0059fe 564px,#0047e8 565px,#0013aa 566px)"></i><i style="top:654px;background:linear-gradient(90deg,#2c79ce,#0236f9 50px,#0113fb 96px,#0031ff 142px,#0194fe 227px,#01d5fe 322px,#00bdff 386px,#0069ff 536px,#0060fe 564px,#004cea 565px,#0015b1 566px)"></i><i style="top:655px;background:linear-gradient(90deg,#abc654,#37c3c8 44px,#186be6 86px,#024bfd 125px,#004bff 178px,#00a3ff 365px,#008cff 474px,#006cfe 564px,#0056ed 565px,#0017bd 566px)"></i><i style="top:656px;background:linear-gradient(90deg,#f1a00e,#c4e93b 49px,#28cbd7 117px,#0c8df3 163px,#006cff 219px,#0067ff 298px,#0081ff 479px,#0072fe 564px,#005bef 565px,#0019c4 566px)"></i><i style="top:657px;background:linear-gradient(90deg,#eca113,#f8da07 50px,#cffd30 93px,#22e0dd 176px,#0dc9f2 199px,#007aff 289px,#0058ff 370px,#006efe 564px,#0058ef 565px,#0018c4 566px)"></i><i style="top:658px;background:linear-gradient(90deg,#9cc363,#c8e337 37px,#dcfe23 96px,#68fe97 167px,#27f2d8 209px,#06daf9 254px,#008fff 321px,#0058ff 384px,#0053ff 481px,#0060fe 564px,#004cec 565px,#0015bb 566px)"></i><i style="top:659px;background:linear-gradient(90deg,#276dd3,#3fcac0 50px,#85e37a 96px,#78f987 141px,#2bfdd4 219px,#00e6ff 301px,#0068ff 397px,#004aff 480px,#004ffe 564px,#003fe9 565px,#0011af 566px)"></i><i style="top:660px;background:linear-gradient(90deg,#0217ea,#023ff8 43px,#219bde 111px,#1fdbe0 161px,#0bf6f4 273px,#00ecff 312px,#0070ff 430px,#004aff 513px,#0046fe 564px,#0037e8 565px,#000faa 566px)"></i><i style="top:661px;background:linear-gradient(90deg,#0113ea,#0115f7 69px,#0132fe 110px,#059dfa 202px,#00d9ff 298px,#00c0ff 361px,#0056ff 513px,#0048fe 564px,#0039e8 565px,#0010ad 566px)"></i><i style="top:662px;background:linear-gradient(90deg,#1b63df,#0237fb 72px,#012bfe 119px,#00a7ff 342px,#008bff 442px,#0054fe 564px,#0043eb 565px,#0012b7 566px)"></i><i style="top:663px;background:linear-gradient(90deg,#7ad084,#32c6cd 56px,#1077ef 131px,#0164fe 182px,#005eff 285px,#0080ff 434px,#0061fe 564px,#004cee 565px,#0015c2 566px)"></i><i style="top:664px;background:linear-gradient(90deg,#dfdd20,#bcf743 54px,#87e678 105px,#1ad4e5 160px,#008eff 233px,#0053ff 349px,#0067ff 526px,#0063fe 564px,#004fef 565px,#0016c5 566px)"></i><i style="top:665px;background:linear-gradient(90deg,#e6dc19,#eaf615 73px,#dafe25 104px,#43f3bc 178px,#12e8ed 213px,#00a3ff 298px,#005bff 361px,#0048ff 425px,#005cfe 564px,#0049ee 565px,#0014c0 566px)"></i><i style="top:666px;background:linear-gradient(90deg,#8cd473,#b8fa47 77px,#befd41 106px,#5cfea3 175px,#29fdd6 208px,#00e4ff 292px,#005cff 400px,#0043ff 484px,#004dfe 564px,#003deb 565px,#0011b5 566px)"></i><i style="top:667px;background:linear-gradient(90deg,#2172d9,#3ad0c5 86px,#50dbaf 124px,#35ebca 181px,#1cf1e3 220px,#00efff 299px,#0065ff 434px,#0042ff 515px,#0041fe 564px,#0033e8 565px,#000eac 566px)"></i><i style="top:668px;background:linear-gradient(90deg,#011cf1,#0239fa 61px,#0da1f2 177px,#00d2ff 287px,#00bfff 352px,#0050ff 511px,#0041fe 564px,#0034e8 565px,#000ead 566px)"></i><i style="top:669px;background:linear-gradient(90deg,#0237f9,#0015f6 59px,#011bfe 115px,#006bff 219px,#00a1ff 356px,#0068ff 492px,#004dfe 564px,#003deb 565px,#0011b7 566px)"></i><i style="top:670px;background:linear-gradient(90deg,#29b8d6,#0c5ef0 57px,#0131fd 107px,#004eff 217px,#0068ff 343px,#07f 455px,#005afe 564px,#0047ee 565px,#0013c2 566px)"></i><i style="top:671px;background:linear-gradient(90deg,#9cf663,#42d5bd 60px,#25c5da 80px,#1b9ce4 107px,#07f 213px,#0050ff 301px,#004fff 397px,#005fff 500px,#005dfe 564px,#0049ef 565px,#0014c5 566px)"></i><i style="top:672px;background:linear-gradient(90deg,#c9fe36,#a0fd5f 60px,#11e1ee 184px,#007bff 296px,#0046ff 362px,#0043ff 444px,#0055fe 564px,#04e 565px,#0013c0 566px)"></i><i style="top:673px;background:linear-gradient(90deg,#8deb72,#a7fd58 47px,#a2fe5d 102px,#20f8df 206px,#01dbfe 267px,#009fff 318px,#004fff 386px,#003aff 467px,#0046fe 564px,#0037eb 565px,#000fb5 566px)"></i><i style="top:674px;background:linear-gradient(90deg,#2499da,#32d0cd 32px,#74ea8b 85px,#76f389 108px,#1afae5 219px,#0ef 286px,#008fff 367px,#0053ff 427px,#0038ff 515px,#0039fe 564px,#002de8 565px,#000cab 566px)"></i><i style="top:675px;background:linear-gradient(90deg,#0226f3,#0c5aef 44px,#1fb4e0 108px,#00e3ff 281px,#00c0ff 345px,#005cff 456px,#003aff 538px,#0037fe 564px,#002be8 565px,#000caa 566px)"></i><i style="top:676px;background:linear-gradient(90deg,#0003e9,#0129fb 85px,#0080ff 213px,#00b2ff 325px,#0097ff 392px,#0047ff 539px,#003ffe 564px,#0032ea 565px,#000eb1 566px)"></i><i style="top:677px;background:linear-gradient(90deg,#011bef,#000ffc 106px,#004dff 225px,#0083ff 381px,#0067ff 485px,#004dfe 564px,#003ded 565px,#0011bd 566px)"></i><i style="top:678px;background:linear-gradient(90deg,#0f7bec,#0138fe 111px,#004bff 217px,#004fff 353px,#0064ff 475px,#0055fe 564px,#0043ef 565px,#0012c4 566px)"></i><i style="top:679px;background:linear-gradient(90deg,#42e1bd,#18c9e7 66px,#0fa0f0 122px,#0082ff 216px,#003cff 361px,#0053fe 564px,#0042ef 565px,#0012c4 566px)"></i><i style="top:680px;background:linear-gradient(90deg,#6cfd93,#50f1af 96px,#05dcfa 204px,#0083ff 310px,#04f 372px,#0035ff 448px,#0047fe 564px,#0038ec 565px,#000fbb 566px)"></i><i style="top:681px;background:linear-gradient(90deg,#55efaa,#63fd9c 88px,#47fdb8 136px,#0cf7f3 219px,#00dbff 282px,#00b0ff 321px,#004cff 402px,#0031ff 490px,#0037fe 564px,#002ce9 565px,#000caf 566px)"></i><i style="top:682px;background:linear-gradient(90deg,#16a4e8,#21d6de 54px,#3ae4c5 108px,#00f0ff 257px,#00cdff 321px,#005aff 429px,#03f 512px,#002ffe 564px,#0025e8 565px,#000aaa 566px)"></i><i style="top:683px;background:linear-gradient(90deg,#012ef8,#0c93f3 131px,#00c3ff 281px,#00b3ff 348px,#0040ff 512px,#0032fe 564px,#0028e8 565px,#000bad 566px)"></i><i style="top:684px;background:linear-gradient(90deg,#0004ed,#012afe 117px,#006bff 236px,#0092ff 362px,#003ffe 564px,#0032eb 565px,#000eb7 566px)"></i><i style="top:685px;background:linear-gradient(90deg,#0000f7,#0004fc 109px,#003cff 217px,#005bff 333px,#0075ff 420px,#004bfe 564px,#003bee 565px,#0010c1 566px)"></i></div><svg width="800" height="776" viewBox="0 0 800 776"><defs><clipPath id="ca"><rect x="100" y="60.5" width="566.5" height="230.3"/></clipPath><clipPath id="cb"><rect x="100" y="455.5" width="566.5" height="230.3"/></clipPath></defs><path d="M144.90 59.20v6M144.90 292.20v-6M203.00 59.20v6M203.00 292.20v-6M261.10 59.20v6M261.10 292.20v-6M319.20 59.20v6M319.20 292.20v-6M377.30 59.20v6M377.30 292.20v-6M435.40 59.20v6M435.40 292.20v-6M493.50 59.20v6M493.50 292.20v-6M551.60 59.20v6M551.60 292.20v-6M609.70 59.20v6M609.70 292.20v-6M98.50 117.45h6M667.90 117.45h-6M98.50 175.70h6M667.90 175.70h-6M98.50 233.95h6M667.90 233.95h-6" stroke="#000" stroke-width="3"/><rect x="98.5" y="59.20" width="569.40" height="233.00" fill="none" stroke="#000" stroke-width="3"/><text x="90" y="73.30" text-anchor="end" font-family="Liberation Sans, sans-serif" stroke="#000" stroke-width="0.35" font-size="38">20</text><text x="90" y="131.50" text-anchor="end" font-family="Liberation Sans, sans-serif" stroke="#000" stroke-width="0.35" font-size="38">10</text><text x="80.6" y="189.70" text-anchor="end" font-family="Liberation Sans, sans-serif" stroke="#000" stroke-width="0.35" font-size="38">0</text><text x="90" y="248.00" text-anchor="end" font-family="Liberation Sans, sans-serif" stroke="#000" stroke-width="0.35" font-size="38">-10</text><text x="90" y="306.20" text-anchor="end" font-family="Liberation Sans, sans-serif" stroke="#000" stroke-width="0.35" font-size="38">-20</text><text x="100" y="336.00" text-anchor="middle" font-family="Liberation Sans, sans-serif" stroke="#000" stroke-width="0.35" font-size="38">0</text><text x="204.5" y="336.00" text-anchor="middle" font-family="Liberation Sans, sans-serif" stroke="#000" stroke-width="0.35" font-size="38">20</text><text x="320.5" y="336.00" text-anchor="middle" font-family="Liberation Sans, sans-serif" stroke="#000" stroke-width="0.35" font-size="38">40</text><text x="436.5" y="336.00" text-anchor="middle" font-family="Liberation Sans, sans-serif" stroke="#000" stroke-width="0.35" font-size="38">60</text><text x="553.4" y="336.00" text-anchor="middle" font-family="Liberation Sans, sans-serif" stroke="#000" stroke-width="0.35" font-size="38">80</text><text x="674.5" y="336.00" text-anchor="middle" font-family="Liberation Sans, sans-serif" stroke="#000" stroke-width="0.35" font-size="38">100</text><text x="350" y="370.00" font-family="Liberation Sans, sans-serif" stroke="#000" stroke-width="0.35" font-size="38">z, &#956;m</text><text transform="translate(20.5 162.00) rotate(-90)" text-anchor="middle" font-family="Liberation Sans, sans-serif" stroke="#000" stroke-width="0.35" font-size="38">x, &#956;m</text><text x="230" y="43" font-family="Liberation Sans, sans-serif" stroke="#000" stroke-width="0.35" font-size="37.5">Plasma density, cm</text><text x="552.3" y="17.8" font-family="Liberation Sans, sans-serif" stroke="#000" stroke-width="0.35" font-size="25">-3</text><text transform="translate(586 104.5) scale(1.04 1)" font-family="Liberation Sans, sans-serif" font-size="49.5" fill="#fff" stroke="#fff" stroke-width="0.5">(a)</text><rect x="699.35" y="59.35" width="41.70" height="7.88" fill="#800000"/><rect x="699.35" y="66.63" width="41.70" height="7.88" fill="#9f0000"/><rect x="699.35" y="73.91" width="41.70" height="7.88" fill="#bf0000"/><rect x="699.35" y="81.19" width="41.70" height="7.88" fill="#df0000"/><rect x="699.35" y="88.47" width="41.70" height="7.88" fill="#ff0000"/><rect x="699.35" y="95.76" width="41.70" height="7.88" fill="#ff2000"/><rect x="699.35" y="103.04" width="41.70" height="7.88" fill="#ff4000"/><rect x="699.35" y="110.32" width="41.70" height="7.88" fill="#ff6000"/><rect x="699.35" y="117.60" width="41.70" height="7.88" fill="#ff8000"/><rect x="699.35" y="124.88" width="41.70" height="7.88" fill="#ff9f00"/><rect x="699.35" y="132.16" width="41.70" height="7.88" fill="#ffbf00"/><rect x="699.35" y="139.44" width="41.70" height="7.88" fill="#ffdf00"/><rect x="699.35" y="146.72" width="41.70" height="7.88" fill="#ffff00"/><rect x="699.35" y="154.01" width="41.70" height="7.88" fill="#dfff20"/><rect x="699.35" y="161.29" width="41.70" height="7.88" fill="#bfff40"/><rect x="699.35" y="168.57" width="41.70" height="7.88" fill="#9fff60"/><rect x="699.35" y="175.85" width="41.70" height="7.88" fill="#80ff80"/><rect x="699.35" y="183.13" width="41.70" height="7.88" fill="#60ff9f"/><rect x="699.35" y="190.41" width="41.70" height="7.88" fill="#40ffbf"/><rect x="699.35" y="197.69" width="41.70" height="7.88" fill="#20ffdf"/><rect x="699.35" y="204.97" width="41.70" height="7.88" fill="#00ffff"/><rect x="699.35" y="212.26" width="41.70" height="7.88" fill="#00dfff"/><rect x="699.35" y="219.54" width="41.70" height="7.88" fill="#00bfff"/><rect x="699.35" y="226.82" width="41.70" height="7.88" fill="#009fff"/><rect x="699.35" y="234.10" width="41.70" height="7.88" fill="#0080ff"/><rect x="699.35" y="241.38" width="41.70" height="7.88" fill="#0060ff"/><rect x="699.35" y="248.66" width="41.70" height="7.88" fill="#0040ff"/><rect x="699.35" y="255.94" width="41.70" height="7.88" fill="#0020ff"/><rect x="699.35" y="263.23" width="41.70" height="7.88" fill="#0000ff"/><rect x="699.35" y="270.51" width="41.70" height="7.88" fill="#0000df"/><rect x="699.35" y="277.79" width="41.70" height="7.88" fill="#0000bf"/><rect x="699.35" y="285.07" width="41.70" height="7.88" fill="#00009f"/><path d="M699.35 105.70h6M741.05 105.70h-6" stroke="#000" stroke-width="3"/><path d="M699.35 152.30h6M741.05 152.30h-6" stroke="#000" stroke-width="3"/><path d="M699.35 199.00h6M741.05 199.00h-6" stroke="#000" stroke-width="3"/><path d="M699.35 245.40h6M741.05 245.40h-6" stroke="#000" stroke-width="3"/><rect x="699.35" y="59.35" width="41.70" height="233.00" fill="none" stroke="#000" stroke-width="3.2"/><text x="748.5" y="68" font-family="Liberation Sans, sans-serif" stroke="#000" stroke-width="0.35" font-size="38">21</text><text x="748.5" y="161" font-family="Liberation Sans, sans-serif" stroke="#000" stroke-width="0.35" font-size="38">19</text><text x="748.5" y="254.5" font-family="Liberation Sans, sans-serif" stroke="#000" stroke-width="0.35" font-size="38">17</text><path d="M144.90 454.30v6M144.90 687.30v-6M203.00 454.30v6M203.00 687.30v-6M261.10 454.30v6M261.10 687.30v-6M319.20 454.30v6M319.20 687.30v-6M377.30 454.30v6M377.30 687.30v-6M435.40 454.30v6M435.40 687.30v-6M493.50 454.30v6M493.50 687.30v-6M551.60 454.30v6M551.60 687.30v-6M609.70 454.30v6M609.70 687.30v-6M98.50 512.55h6M667.90 512.55h-6M98.50 570.80h6M667.90 570.80h-6M98.50 629.05h6M667.90 629.05h-6" stroke="#000" stroke-width="3"/><rect x="98.5" y="454.30" width="569.40" height="233.00" fill="none" stroke="#000" stroke-width="3"/><text x="90" y="469.30" text-anchor="end" font-family="Liberation Sans, sans-serif" stroke="#000" stroke-width="0.35" font-size="38">20</text><text x="90" y="527.50" text-anchor="end" font-family="Liberation Sans, sans-serif" stroke="#000" stroke-width="0.35" font-size="38">10</text><text x="80.6" y="585.70" text-anchor="end" font-family="Liberation Sans, sans-serif" stroke="#000" stroke-width="0.35" font-size="38">0</text><text x="90" y="644.00" text-anchor="end" font-family="Liberation Sans, sans-serif" stroke="#000" stroke-width="0.35" font-size="38">-10</text><text x="90" y="702.20" text-anchor="end" font-family="Liberation Sans, sans-serif" stroke="#000" stroke-width="0.35" font-size="38">-20</text><text x="100" y="734.00" text-anchor="middle" font-family="Liberation Sans, sans-serif" stroke="#000" stroke-width="0.35" font-size="38">0</text><text x="204.5" y="734.00" text-anchor="middle" font-family="Liberation Sans, sans-serif" stroke="#000" stroke-width="0.35" font-size="38">20</text><text x="320.5" y="734.00" text-anchor="middle" font-family="Liberation Sans, sans-serif" stroke="#000" stroke-width="0.35" font-size="38">40</text><text x="436.5" y="734.00" text-anchor="middle" font-family="Liberation Sans, sans-serif" stroke="#000" stroke-width="0.35" font-size="38">60</text><text x="553.4" y="734.00" text-anchor="middle" font-family="Liberation Sans, sans-serif" stroke="#000" stroke-width="0.35" font-size="38">80</text><text x="674.5" y="734.00" text-anchor="middle" font-family="Liberation Sans, sans-serif" stroke="#000" stroke-width="0.35" font-size="38">100</text><text x="350" y="769.00" font-family="Liberation Sans, sans-serif" stroke="#000" stroke-width="0.35" font-size="38">z, &#956;m</text><text transform="translate(20.5 558.00) rotate(-90)" text-anchor="middle" font-family="Liberation Sans, sans-serif" stroke="#000" stroke-width="0.35" font-size="38">x, &#956;m</text><text x="302.5" y="438" font-family="Liberation Sans, sans-serif" stroke="#000" stroke-width="0.35" font-size="37.5">Intensity TW/cm</text><text x="570" y="420" font-family="Liberation Sans, sans-serif" stroke="#000" stroke-width="0.35" font-size="20">2</text><text transform="translate(586 502.5) scale(1.04 1)" font-family="Liberation Sans, sans-serif" font-size="49.5" fill="#fff" stroke="#fff" stroke-width="0.5">(b)</text><rect x="699.35" y="454.45" width="41.70" height="7.88" fill="#800000"/><rect x="699.35" y="461.73" width="41.70" height="7.88" fill="#9f0000"/><rect x="699.35" y="469.01" width="41.70" height="7.88" fill="#bf0000"/><rect x="699.35" y="476.29" width="41.70" height="7.88" fill="#df0000"/><rect x="699.35" y="483.57" width="41.70" height="7.88" fill="#ff0000"/><rect x="699.35" y="490.86" width="41.70" height="7.88" fill="#ff2000"/><rect x="699.35" y="498.14" width="41.70" height="7.88" fill="#ff4000"/><rect x="699.35" y="505.42" width="41.70" height="7.88" fill="#ff6000"/><rect x="699.35" y="512.70" width="41.70" height="7.88" fill="#ff8000"/><rect x="699.35" y="519.98" width="41.70" height="7.88" fill="#ff9f00"/><rect x="699.35" y="527.26" width="41.70" height="7.88" fill="#ffbf00"/><rect x="699.35" y="534.54" width="41.70" height="7.88" fill="#ffdf00"/><rect x="699.35" y="541.83" width="41.70" height="7.88" fill="#ffff00"/><rect x="699.35" y="549.11" width="41.70" height="7.88" fill="#dfff20"/><rect x="699.35" y="556.39" width="41.70" height="7.88" fill="#bfff40"/><rect x="699.35" y="563.67" width="41.70" height="7.88" fill="#9fff60"/><rect x="699.35" y="570.95" width="41.70" height="7.88" fill="#80ff80"/><rect x="699.35" y="578.23" width="41.70" height="7.88" fill="#60ff9f"/><rect x="699.35" y="585.51" width="41.70" height="7.88" fill="#40ffbf"/><rect x="699.35" y="592.79" width="41.70" height="7.88" fill="#20ffdf"/><rect x="699.35" y="600.08" width="41.70" height="7.88" fill="#00ffff"/><rect x="699.35" y="607.36" width="41.70" height="7.88" fill="#00dfff"/><rect x="699.35" y="614.64" width="41.70" height="7.88" fill="#00bfff"/><rect x="699.35" y="621.92" width="41.70" height="7.88" fill="#009fff"/><rect x="699.35" y="629.20" width="41.70" height="7.88" fill="#0080ff"/><rect x="699.35" y="636.48" width="41.70" height="7.88" fill="#0060ff"/><rect x="699.35" y="643.76" width="41.70" height="7.88" fill="#0040ff"/><rect x="699.35" y="651.04" width="41.70" height="7.88" fill="#0020ff"/><rect x="699.35" y="658.33" width="41.70" height="7.88" fill="#0000ff"/><rect x="699.35" y="665.61" width="41.70" height="7.88" fill="#0000df"/><rect x="699.35" y="672.89" width="41.70" height="7.88" fill="#0000bf"/><rect x="699.35" y="680.17" width="41.70" height="7.88" fill="#00009f"/><path d="M699.35 479.80h6M741.05 479.80h-6" stroke="#000" stroke-width="3"/><path d="M699.35 534.30h6M741.05 534.30h-6" stroke="#000" stroke-width="3"/><path d="M699.35 585.20h6M741.05 585.20h-6" stroke="#000" stroke-width="3"/><path d="M699.35 636.80h6M741.05 636.80h-6" stroke="#000" stroke-width="3"/><rect x="699.35" y="454.45" width="41.70" height="233.00" fill="none" stroke="#000" stroke-width="3.2"/><text x="748.5" y="496" font-family="Liberation Sans, sans-serif" stroke="#000" stroke-width="0.35" font-size="38">2.0</text><text x="748.5" y="549" font-family="Liberation Sans, sans-serif" stroke="#000" stroke-width="0.35" font-size="38">1.5</text><text x="748.5" y="598.5" font-family="Liberation Sans, sans-serif" stroke="#000" stroke-width="0.35" font-size="38">1.0</text><text x="748.5" y="650" font-family="Liberation Sans, sans-serif" stroke="#000" stroke-width="0.35" font-size="38">0.5</text></svg></body></html>
